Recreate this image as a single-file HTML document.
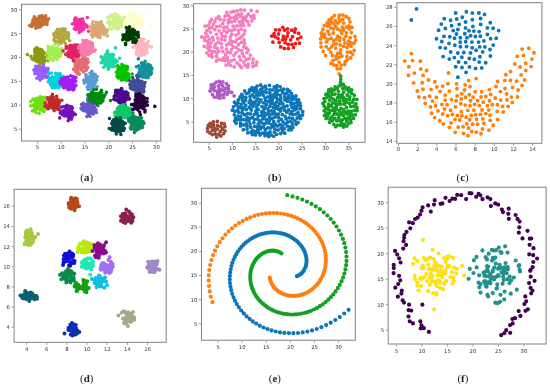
<!DOCTYPE html>
<html><head><meta charset="utf-8"><title>Clustering datasets</title>
<style>
html,body{margin:0;padding:0;background:#fff}
svg{display:block;filter:blur(0.35px)}
text{font-family:"DejaVu Sans","Liberation Sans",sans-serif;font-size:5.3px;fill:#333}
text.cap{font-family:"Liberation Serif",serif;font-size:10.9px;fill:#222}
</style></head><body>
<svg width="550" height="387" viewBox="0 0 550 387">
<rect width="550" height="387" fill="#fff"/>
<rect x="21.5" y="4.3" width="139.3" height="136.7" fill="#fff" stroke="#828282" stroke-width="1"/>
<path d="M37.4 141.5v2M61.2 141.5v2M85.0 141.5v2M108.8 141.5v2M132.6 141.5v2M156.4 141.5v2M21.0 129.2h-2M21.0 105.3h-2M21.0 81.4h-2M21.0 57.5h-2M21.0 33.6h-2M21.0 9.7h-2" stroke="#555" stroke-width="0.6" fill="none"/>
<text x="37.4" y="148.9" text-anchor="middle">5</text>
<text x="61.2" y="148.9" text-anchor="middle">10</text>
<text x="85.0" y="148.9" text-anchor="middle">15</text>
<text x="108.8" y="148.9" text-anchor="middle">20</text>
<text x="132.6" y="148.9" text-anchor="middle">25</text>
<text x="156.4" y="148.9" text-anchor="middle">30</text>
<text x="17.3" y="131.1" text-anchor="end">5</text>
<text x="17.3" y="107.2" text-anchor="end">10</text>
<text x="17.3" y="83.3" text-anchor="end">15</text>
<text x="17.3" y="59.4" text-anchor="end">20</text>
<text x="17.3" y="35.5" text-anchor="end">25</text>
<text x="17.3" y="11.6" text-anchor="end">30</text>
<path d="M39.0 18.2h0M42.8 23.7h0M41.6 17.8h0M36.4 21.0h0M40.0 19.5h0M38.4 19.7h0M37.1 23.4h0M36.6 20.8h0M40.0 21.8h0M37.1 23.7h0M39.8 21.9h0M42.0 15.5h0M35.7 28.0h0M39.5 22.7h0M39.7 20.1h0M48.6 18.9h0M34.3 16.9h0M40.4 17.9h0M40.5 26.6h0M39.7 20.5h0M36.3 25.9h0M40.7 23.8h0M38.8 21.2h0M40.3 22.4h0M39.8 17.4h0M41.9 22.5h0M42.7 20.7h0M44.3 21.8h0M42.5 19.0h0M35.6 25.0h0M39.0 20.3h0M37.9 26.4h0M40.8 21.9h0M38.8 18.7h0M33.2 24.5h0M44.1 19.0h0M35.2 21.2h0M38.6 18.3h0M40.8 25.8h0M39.7 22.6h0M41.6 18.8h0M35.8 28.2h0M41.1 17.3h0M37.1 22.7h0M40.0 18.9h0M41.9 18.4h0M39.4 22.1h0M47.0 24.4h0M38.8 21.4h0M33.8 23.8h0M35.5 20.5h0M37.7 19.8h0M42.8 17.2h0M39.0 27.2h0M45.6 17.2h0M36.7 22.5h0M37.1 19.5h0M39.4 21.1h0M36.0 21.7h0M34.5 22.0h0M47.3 21.4h0M29.7 25.6h0M45.7 19.0h0M33.9 22.7h0M37.3 24.5h0M37.2 20.7h0M37.4 21.4h0M40.2 23.8h0M39.9 24.4h0M41.3 24.0h0M32.9 20.1h0M39.2 21.4h0M41.8 21.0h0M37.8 20.6h0M42.4 23.5h0M43.2 20.7h0M37.3 26.0h0M35.0 17.9h0M35.0 23.6h0M31.9 26.4h0M42.8 19.6h0M36.7 22.1h0M40.5 17.8h0M45.7 15.8h0M37.5 22.9h0M38.9 21.1h0M38.9 20.8h0M32.1 23.1h0M39.4 25.6h0M39.2 16.2h0M40.7 19.6h0M34.3 18.1h0M44.4 22.0h0M36.5 22.8h0M33.6 24.5h0M35.5 19.1h0M44.2 23.9h0M42.3 25.2h0M42.8 18.0h0M43.1 22.6h0" stroke="#c76e32" stroke-width="3.60" stroke-linecap="round" fill="none"/>
<path d="M87.4 17.6h0M76.8 23.6h0M78.2 25.1h0M76.1 18.1h0M77.2 26.1h0M82.6 27.4h0M79.8 27.1h0M80.2 29.3h0M79.1 25.8h0M79.5 24.8h0M79.6 22.2h0M79.5 25.5h0M78.3 26.9h0M76.1 23.1h0M76.5 27.7h0M82.0 23.5h0M79.2 32.4h0M82.3 24.0h0M75.5 22.2h0M78.1 29.1h0M81.1 25.7h0M81.5 30.9h0M87.4 27.2h0M75.1 22.7h0M79.4 23.8h0M79.5 25.2h0M81.6 27.7h0M83.2 26.7h0M77.5 24.7h0M82.3 25.8h0M77.6 22.7h0M74.3 28.8h0M80.9 30.0h0M80.8 25.2h0M84.0 28.4h0M78.4 23.8h0M75.3 18.1h0M78.2 27.7h0M83.9 25.1h0M74.2 22.7h0M83.9 26.7h0M79.7 23.2h0M77.4 23.4h0M81.4 27.5h0M75.6 25.8h0M77.5 21.3h0M81.2 22.1h0M81.2 24.0h0M77.8 22.5h0M87.3 26.1h0M78.5 25.6h0M79.0 27.6h0M81.2 26.1h0M86.0 25.0h0M81.9 21.5h0M79.6 19.7h0M78.4 28.0h0M79.4 25.4h0M75.6 25.1h0M74.6 19.9h0M80.4 27.4h0M77.4 26.4h0M79.9 28.8h0M77.3 25.7h0M78.8 21.5h0M84.9 24.9h0M82.5 29.9h0M83.1 25.1h0M82.5 19.1h0M72.4 24.0h0M76.7 22.8h0M75.9 26.8h0M81.5 22.7h0M81.0 27.9h0M78.7 21.7h0M80.7 31.2h0M83.8 23.5h0M83.9 26.2h0M83.8 28.9h0M82.8 26.8h0M83.2 21.3h0M78.0 25.2h0M80.9 20.6h0M83.3 29.5h0M82.4 22.3h0M88.5 31.2h0M78.8 20.1h0M75.7 29.4h0M82.6 21.2h0M78.3 23.0h0M81.1 19.4h0M80.7 21.4h0M77.4 25.7h0M80.4 20.8h0M82.8 27.8h0M83.2 22.2h0M80.3 25.9h0M80.0 31.2h0M81.4 24.1h0M77.5 22.3h0" stroke="#f531a3" stroke-width="3.60" stroke-linecap="round" fill="none"/>
<path d="M93.1 31.8h0M96.3 22.5h0M92.2 27.7h0M101.5 28.4h0M102.4 33.5h0M89.7 27.0h0M93.7 31.0h0M93.8 25.9h0M101.3 32.4h0M101.4 29.3h0M97.6 29.6h0M97.3 27.5h0M99.2 31.1h0M101.8 32.0h0M99.1 28.2h0M103.5 31.6h0M104.5 29.1h0M97.4 32.3h0M100.2 29.6h0M94.0 33.9h0M96.1 32.3h0M102.1 24.7h0M101.3 28.5h0M96.5 29.6h0M101.3 21.9h0M101.4 30.8h0M98.2 31.6h0M95.2 30.5h0M98.8 23.0h0M98.3 24.8h0M104.6 29.5h0M104.0 27.1h0M96.6 28.8h0M98.2 30.6h0M97.4 29.2h0M99.7 33.0h0M98.1 35.4h0M99.0 27.5h0M98.7 28.7h0M100.3 32.2h0M97.2 27.9h0M101.8 28.3h0M107.4 30.1h0M101.8 25.1h0M97.6 32.8h0M93.8 29.2h0M102.2 28.8h0M98.7 31.2h0M100.1 37.6h0M98.9 29.7h0M93.1 21.8h0M93.0 33.7h0M93.7 25.7h0M94.8 27.3h0M100.2 28.8h0M93.3 32.0h0M104.2 34.5h0M95.0 30.4h0M101.1 28.8h0M100.8 33.7h0M101.6 27.7h0M92.2 24.1h0M106.5 32.6h0M98.3 24.6h0M92.7 37.1h0M93.3 31.9h0M96.0 27.5h0M99.1 34.4h0M100.2 22.9h0M102.5 26.1h0M98.2 26.2h0M94.5 27.0h0M97.8 25.6h0M99.8 33.8h0M98.6 25.3h0M94.0 31.8h0M95.3 35.3h0M101.6 25.0h0M101.0 28.9h0M97.9 28.9h0M95.4 26.5h0M101.9 26.3h0M96.1 29.5h0M97.5 23.2h0M98.7 36.7h0M99.6 22.8h0M100.6 26.5h0M98.2 37.0h0M91.5 34.4h0M97.6 28.6h0M100.6 31.0h0M101.6 30.8h0M95.5 26.6h0M96.1 35.8h0M94.2 29.4h0M91.3 30.6h0M96.9 35.0h0M92.7 31.5h0M96.1 25.1h0M99.5 35.6h0M107.4 36.0h0" stroke="#dba875" stroke-width="3.60" stroke-linecap="round" fill="none"/>
<path d="M58.5 32.9h0M68.6 34.1h0M62.8 28.7h0M61.6 36.6h0M56.5 37.4h0M69.7 40.7h0M61.7 40.7h0M62.1 32.2h0M60.8 32.8h0M64.3 33.9h0M68.0 32.6h0M60.6 38.0h0M58.6 33.8h0M61.0 29.5h0M68.4 36.3h0M60.5 29.3h0M54.8 37.2h0M65.2 38.9h0M59.9 36.8h0M64.1 35.0h0M63.1 33.3h0M61.8 31.4h0M59.0 40.8h0M55.2 41.5h0M59.7 31.7h0M62.3 37.7h0M57.8 37.5h0M60.2 37.6h0M56.4 37.3h0M65.4 43.5h0M60.8 43.3h0M62.3 38.3h0M54.0 35.1h0M68.3 35.1h0M65.9 35.8h0M53.8 33.7h0M60.1 40.9h0M64.6 34.5h0M59.8 32.3h0M58.5 33.1h0M58.2 33.5h0M57.6 30.0h0M62.6 30.2h0M58.7 37.3h0M63.5 41.6h0M57.8 31.7h0M63.4 31.9h0M60.5 33.4h0M59.0 40.6h0M55.5 37.5h0M59.7 37.8h0M53.9 39.9h0M59.7 34.5h0M59.6 38.7h0M56.6 31.0h0M57.6 29.3h0M67.4 34.5h0M59.6 35.0h0M57.4 34.6h0M61.7 33.6h0M65.2 29.1h0M60.3 31.7h0M58.8 38.8h0M59.4 39.1h0M65.3 32.1h0M66.3 35.6h0M62.7 37.6h0M57.5 33.9h0M62.7 39.6h0M63.8 41.9h0M61.0 37.8h0M59.7 39.5h0M65.2 33.4h0M66.0 35.0h0M56.9 36.9h0M57.3 33.9h0M66.1 34.3h0M59.4 36.9h0M62.4 40.9h0M62.2 34.8h0M59.6 37.1h0M62.2 38.6h0M58.6 32.7h0M62.4 29.4h0M58.0 42.1h0M65.0 32.1h0M58.9 41.0h0M61.4 42.1h0M60.3 43.6h0M60.7 43.4h0M60.7 30.0h0M60.6 32.8h0M59.2 38.9h0M56.0 31.8h0M61.3 29.7h0M57.2 36.5h0M61.8 30.5h0M68.2 38.1h0M57.4 42.1h0M66.4 36.0h0" stroke="#b3a83e" stroke-width="3.60" stroke-linecap="round" fill="none"/>
<path d="M37.2 56.4h0M34.0 60.0h0M43.0 54.8h0M40.1 59.9h0M41.7 49.7h0M35.1 56.2h0M38.0 54.9h0M39.6 56.8h0M36.4 56.3h0M37.3 56.8h0M39.3 53.9h0M37.4 57.5h0M43.5 57.1h0M38.6 53.1h0M40.6 55.9h0M40.4 60.8h0M41.3 51.4h0M41.7 62.0h0M40.6 59.6h0M38.8 55.8h0M35.2 51.3h0M39.4 53.3h0M42.0 51.3h0M44.0 61.6h0M39.8 64.1h0M38.0 53.6h0M43.0 51.5h0M38.3 55.0h0M40.0 51.5h0M45.5 57.5h0M48.0 56.1h0M38.3 54.0h0M42.4 54.2h0M37.3 50.8h0M39.9 50.5h0M44.8 60.8h0M36.1 59.8h0M40.6 55.9h0M40.7 59.1h0M41.3 51.0h0M34.8 56.9h0M40.6 56.6h0M39.0 49.6h0M44.4 53.0h0M36.9 47.9h0M41.0 58.2h0M38.5 57.9h0M47.5 55.4h0M40.0 64.0h0M42.4 60.0h0M35.6 53.9h0M36.6 53.0h0M43.8 62.7h0M39.2 61.9h0M39.5 52.8h0M34.7 49.5h0M38.6 60.5h0M39.3 53.2h0M34.7 56.1h0M34.7 51.7h0M40.3 57.7h0M43.5 60.9h0M38.3 49.3h0M39.3 51.1h0M40.4 58.7h0M38.8 55.9h0M38.2 59.2h0M36.8 61.6h0M40.1 54.7h0M42.4 62.8h0M42.7 56.2h0M34.5 55.8h0M42.7 54.2h0M42.4 52.7h0M43.0 56.3h0M32.1 58.9h0M41.0 57.9h0M42.2 53.2h0M39.9 49.2h0M36.1 52.7h0M38.0 59.0h0M41.9 58.4h0M42.9 60.4h0M39.8 59.2h0M38.8 57.5h0M35.6 53.7h0M35.1 59.7h0M43.0 52.6h0M42.2 54.9h0M48.1 60.6h0M37.0 59.8h0M43.0 55.1h0M43.8 52.5h0M38.9 59.1h0M36.1 48.0h0M43.3 53.9h0M38.5 56.9h0M38.5 57.3h0M30.9 56.3h0M38.3 55.1h0M27.4 54.6h0" stroke="#8b9a12" stroke-width="3.60" stroke-linecap="round" fill="none"/>
<path d="M54.8 48.7h0M54.0 48.9h0M48.4 54.2h0M60.3 56.3h0M53.0 49.2h0M50.8 49.2h0M48.8 58.9h0M49.1 57.9h0M53.9 53.0h0M55.2 55.6h0M63.3 52.2h0M53.8 50.1h0M53.1 54.1h0M54.3 48.4h0M56.4 48.3h0M51.9 54.7h0M61.4 52.7h0M55.8 49.1h0M59.2 56.8h0M52.3 53.4h0M52.9 60.7h0M53.8 58.2h0M55.1 49.8h0M56.2 56.2h0M57.5 55.0h0M49.5 55.4h0M50.9 51.2h0M57.1 59.5h0M52.0 48.5h0M54.8 49.9h0M48.5 48.3h0M48.3 51.1h0M59.0 44.8h0M55.9 48.5h0M51.8 53.5h0M58.3 51.8h0M53.6 57.0h0M54.6 49.4h0M51.1 53.6h0M59.9 51.1h0M53.0 55.9h0M51.8 52.7h0M59.1 54.0h0M60.6 55.2h0M52.7 48.7h0M53.2 54.8h0M53.6 50.1h0M47.8 52.7h0M53.7 53.3h0M56.8 53.9h0M52.7 51.6h0M56.7 52.6h0M59.6 55.1h0M58.8 54.9h0M53.5 50.4h0M61.6 48.5h0M52.6 47.0h0M53.3 54.7h0M55.7 51.4h0M57.6 53.8h0M55.5 49.4h0M55.1 51.9h0M51.5 48.4h0M54.6 49.9h0M52.8 51.7h0M50.3 51.4h0M56.9 51.4h0M57.2 50.6h0M59.1 52.5h0M48.1 50.2h0M53.5 55.3h0M56.4 50.8h0M55.7 53.0h0M54.8 50.8h0M60.6 54.3h0M54.0 50.4h0M47.7 57.7h0M58.8 55.7h0M56.2 54.9h0M51.3 59.1h0M50.8 48.9h0M49.0 49.6h0M55.2 44.3h0M52.3 47.1h0M57.3 52.8h0M48.0 46.2h0M49.1 53.5h0M57.3 47.7h0M51.0 51.9h0M53.1 47.4h0M59.6 55.8h0M56.1 58.1h0M54.1 55.8h0M61.4 51.2h0M51.4 53.6h0M52.0 51.1h0M53.5 49.3h0M59.7 49.2h0M49.6 57.7h0M51.3 47.9h0" stroke="#a3ee50" stroke-width="3.60" stroke-linecap="round" fill="none"/>
<path d="M79.5 67.1h0M81.2 69.9h0M76.5 62.8h0M79.6 66.3h0M81.9 66.8h0M78.2 66.4h0M82.9 64.4h0M76.3 65.8h0M83.1 57.8h0M76.5 63.4h0M79.8 61.6h0M82.4 59.3h0M82.6 66.7h0M78.7 63.2h0M82.2 55.8h0M86.9 69.0h0M82.0 69.6h0M74.6 61.9h0M82.7 68.5h0M86.7 68.3h0M76.4 62.3h0M81.5 65.3h0M80.5 63.8h0M80.2 65.3h0M73.8 69.6h0M83.0 67.3h0M82.7 60.1h0M79.4 63.6h0M88.3 62.1h0M87.5 59.0h0M83.5 65.1h0M77.6 68.8h0M82.5 62.9h0M80.1 61.5h0M78.5 60.6h0M80.9 64.8h0M80.7 65.0h0M86.2 68.2h0M81.4 60.1h0M83.3 65.8h0M87.1 68.6h0M75.9 62.6h0M77.5 69.9h0M84.0 61.9h0M83.4 66.5h0M81.4 68.2h0M87.1 61.8h0M83.4 71.8h0M83.7 59.2h0M85.2 61.8h0M80.7 65.9h0M82.9 63.3h0M81.6 65.8h0M86.9 69.0h0M80.6 66.8h0M84.5 59.4h0M85.3 61.9h0M75.6 57.0h0M82.6 65.1h0M80.8 65.9h0M82.3 63.5h0M79.4 74.1h0M80.6 62.9h0M82.6 65.2h0M82.4 60.9h0M79.0 59.3h0M73.5 69.3h0M77.4 73.7h0M77.1 60.1h0M85.3 64.3h0M87.0 63.8h0M78.9 63.8h0M80.2 62.0h0M75.2 61.0h0M79.0 61.5h0M75.1 66.2h0M81.0 61.4h0M76.3 58.5h0M82.5 66.6h0M85.2 64.3h0M85.0 56.1h0M83.5 66.6h0M79.2 62.5h0M81.8 67.7h0M78.3 62.2h0M85.9 70.5h0M83.4 65.4h0M83.6 61.5h0M80.9 68.4h0M75.6 71.6h0M85.2 65.4h0M78.7 65.7h0M75.8 63.5h0M85.5 60.5h0M75.0 59.7h0M77.9 71.7h0M76.2 68.2h0M80.7 68.5h0M75.2 65.6h0M87.8 67.3h0" stroke="#e26e70" stroke-width="3.60" stroke-linecap="round" fill="none"/>
<path d="M74.8 51.0h0M78.9 55.5h0M77.1 56.0h0M70.9 51.6h0M80.1 53.0h0M66.2 46.5h0M70.0 52.2h0M73.0 50.9h0M72.5 50.3h0M74.5 48.1h0M71.5 54.0h0M69.2 49.1h0M72.9 49.2h0M75.1 45.1h0M73.9 48.5h0M68.7 55.3h0M72.0 55.8h0M75.6 56.2h0M73.4 60.3h0M69.1 52.5h0M72.2 57.9h0M73.5 47.7h0M75.5 53.7h0M70.9 55.7h0M75.4 46.0h0M71.2 57.5h0M73.8 48.7h0M63.1 50.8h0M81.0 48.3h0M75.1 49.8h0M77.0 54.8h0M70.0 49.8h0M70.6 50.3h0M66.1 48.5h0M76.2 51.1h0M73.7 45.3h0M69.1 54.6h0M69.1 52.8h0M69.4 51.1h0M70.7 56.6h0M67.4 46.8h0M72.8 52.1h0M73.2 51.6h0M75.9 49.2h0M70.9 54.3h0M69.1 55.9h0M78.2 54.7h0M65.7 54.4h0M70.2 50.1h0M69.9 49.3h0M74.5 46.6h0M77.9 45.0h0M78.1 55.6h0M71.6 50.4h0M80.7 48.8h0M77.5 51.9h0M75.3 48.6h0M71.4 48.4h0M77.0 51.9h0M76.8 45.2h0M73.3 51.3h0M72.0 53.6h0M73.7 52.8h0M72.0 54.1h0M67.5 54.7h0M74.3 55.6h0M70.7 45.2h0M77.2 53.8h0M75.3 53.7h0M79.1 53.4h0M73.4 46.2h0M70.1 46.5h0M70.1 50.4h0M72.0 51.6h0M73.7 51.6h0M69.4 48.1h0M75.7 46.5h0M78.2 56.2h0M77.8 46.5h0M71.1 47.5h0M78.5 53.3h0M68.0 52.6h0M79.2 50.8h0M68.6 52.2h0M69.5 52.8h0M73.4 60.7h0M74.4 46.1h0M72.4 52.7h0M77.1 55.9h0M68.5 56.4h0M72.5 49.8h0M72.8 49.3h0M76.1 49.5h0M70.1 52.3h0M77.7 55.1h0M72.2 52.8h0M72.4 55.2h0M70.1 45.6h0M76.6 53.9h0M72.9 48.8h0" stroke="#df2265" stroke-width="3.60" stroke-linecap="round" fill="none"/>
<path d="M86.1 45.7h0M85.1 49.3h0M87.1 49.6h0M78.4 47.9h0M88.3 46.2h0M83.7 46.7h0M88.2 54.5h0M79.3 46.2h0M83.9 44.3h0M95.2 50.1h0M84.9 48.0h0M89.9 52.1h0M91.9 44.3h0M89.8 49.9h0M90.7 44.8h0M83.0 40.2h0M86.3 46.6h0M85.5 46.5h0M91.6 50.9h0M81.3 49.6h0M82.6 50.7h0M86.9 48.2h0M92.1 51.7h0M88.7 49.8h0M90.4 42.4h0M88.5 41.8h0M85.4 53.8h0M82.7 53.8h0M83.9 48.8h0M91.6 45.4h0M89.1 49.5h0M84.7 47.8h0M87.9 47.0h0M88.7 48.4h0M80.3 52.0h0M84.4 41.7h0M85.8 45.5h0M92.7 46.7h0M85.9 49.0h0M83.6 46.8h0M91.5 45.8h0M90.2 45.3h0M94.7 50.3h0M88.0 45.3h0M90.1 53.3h0M85.5 48.7h0M83.6 44.8h0M88.2 49.4h0M81.4 52.8h0M83.8 46.3h0M82.9 55.6h0M82.1 50.1h0M91.1 42.4h0M85.6 44.5h0M92.5 43.2h0M87.0 52.7h0M85.6 54.8h0M88.3 45.1h0M80.4 48.1h0M88.5 43.3h0M92.4 45.0h0M84.9 49.3h0M91.8 50.2h0M87.2 42.2h0M87.8 53.0h0M86.3 45.6h0M86.7 43.7h0M92.1 50.3h0M85.5 48.3h0M83.0 46.5h0M86.7 45.0h0M85.2 51.2h0M94.1 51.2h0M85.2 50.6h0M86.3 51.3h0M87.2 50.5h0M85.9 46.6h0M90.0 46.2h0M84.7 46.5h0M86.9 48.3h0M81.1 45.5h0M86.9 41.7h0M89.7 52.0h0M82.4 43.7h0M84.2 45.4h0M86.3 40.2h0M87.7 42.4h0M92.3 49.6h0M86.2 42.5h0M87.4 51.1h0M90.0 42.2h0M87.3 42.7h0M86.9 42.9h0M86.6 42.9h0M89.5 48.5h0M88.4 49.8h0M83.4 51.7h0M87.3 51.6h0M89.2 45.8h0M89.3 49.5h0" stroke="#f97bb0" stroke-width="3.60" stroke-linecap="round" fill="none"/>
<path d="M40.7 73.1h0M45.3 76.0h0M39.1 73.9h0M40.0 75.8h0M38.2 69.3h0M38.2 69.6h0M48.0 68.3h0M33.9 70.2h0M42.3 71.0h0M34.6 70.2h0M36.5 68.3h0M42.8 67.5h0M39.1 78.6h0M44.3 69.8h0M39.1 68.0h0M43.0 77.8h0M39.2 74.7h0M40.1 72.3h0M37.9 73.8h0M42.6 73.3h0M39.5 74.2h0M40.1 80.1h0M41.1 76.8h0M40.9 78.5h0M43.9 72.2h0M35.5 72.2h0M37.7 66.4h0M42.3 76.0h0M41.3 73.2h0M44.9 71.7h0M42.4 77.2h0M43.4 65.3h0M42.8 73.2h0M41.1 76.5h0M41.2 77.1h0M40.7 74.5h0M37.5 70.9h0M35.0 73.2h0M35.7 66.3h0M47.7 69.9h0M47.5 70.8h0M42.5 74.6h0M37.2 72.6h0M38.5 74.6h0M43.2 73.5h0M34.8 73.8h0M37.7 74.1h0M36.5 68.6h0M47.5 77.1h0M42.9 70.8h0M36.6 72.7h0M45.7 69.9h0M46.4 77.4h0M37.7 72.0h0M41.8 73.0h0M39.1 74.6h0M38.2 71.4h0M34.3 69.6h0M38.5 78.3h0M42.4 78.3h0M41.9 74.6h0M42.6 70.2h0M45.2 74.9h0M39.3 73.2h0M35.2 70.9h0M40.9 78.1h0M44.8 68.1h0M35.6 71.0h0M45.0 70.0h0M36.8 78.3h0M40.0 75.0h0M40.4 73.5h0M42.3 75.2h0M40.0 66.7h0M39.9 70.5h0M41.4 72.4h0M37.0 71.2h0M40.2 70.2h0M47.9 72.5h0M43.1 77.0h0M40.8 67.5h0M40.1 75.5h0M41.1 73.9h0M39.5 74.6h0M47.6 76.4h0M38.8 75.3h0M44.9 74.2h0M45.1 72.6h0M40.2 78.6h0M44.8 71.2h0M41.8 73.6h0M38.8 77.9h0M43.8 72.2h0M39.0 75.5h0M40.8 73.5h0M46.4 70.3h0M38.1 77.3h0M39.5 76.5h0M40.6 71.7h0M42.7 71.7h0" stroke="#9760f8" stroke-width="3.60" stroke-linecap="round" fill="none"/>
<path d="M54.4 78.1h0M51.8 80.6h0M58.1 79.3h0M50.5 84.6h0M49.2 73.7h0M49.4 80.8h0M61.9 76.4h0M60.0 82.2h0M56.7 73.6h0M55.0 78.8h0M54.0 80.4h0M56.5 75.2h0M51.8 85.6h0M55.2 79.6h0M60.3 77.7h0M52.9 78.2h0M59.2 79.3h0M53.9 77.8h0M53.8 87.2h0M60.0 85.1h0M53.9 81.5h0M53.9 81.4h0M49.9 78.4h0M55.2 80.2h0M59.0 76.3h0M60.0 73.5h0M56.8 86.0h0M55.9 80.3h0M55.4 82.6h0M51.9 77.4h0M58.7 84.5h0M57.1 81.0h0M53.7 77.8h0M54.9 82.4h0M55.3 87.7h0M52.9 82.0h0M50.0 79.7h0M56.1 82.6h0M54.5 77.9h0M59.0 83.2h0M56.3 76.6h0M54.9 83.2h0M52.2 81.6h0M51.3 73.0h0M52.9 79.0h0M55.7 78.1h0M53.6 85.2h0M61.0 80.7h0M55.4 79.7h0M59.6 77.6h0M59.3 77.4h0M55.6 79.5h0M52.3 87.6h0M54.1 84.4h0M60.7 77.0h0M59.3 82.5h0M62.6 86.7h0M50.6 83.3h0M51.5 80.0h0M55.7 73.4h0M58.7 75.9h0M56.6 81.0h0M52.5 86.0h0M51.8 81.8h0M57.8 86.6h0M50.0 79.6h0M51.2 79.2h0M53.5 83.2h0M50.1 80.8h0M52.3 82.7h0M52.7 79.8h0M55.6 86.7h0M54.4 79.0h0M58.8 77.6h0M55.8 84.6h0M52.2 77.1h0M52.4 76.7h0M59.7 84.4h0M56.6 80.9h0M62.4 77.4h0M53.1 78.9h0M51.6 81.0h0M55.8 79.9h0M56.1 83.8h0M48.2 81.8h0M51.7 83.0h0M62.8 76.2h0M54.4 85.7h0M50.3 79.1h0M58.9 81.5h0M55.5 79.5h0M58.9 87.4h0M55.6 79.0h0M58.5 79.0h0M51.0 82.6h0M49.4 79.7h0M55.7 78.6h0M51.5 84.6h0M60.6 79.8h0M61.4 78.8h0" stroke="#00d2dc" stroke-width="3.60" stroke-linecap="round" fill="none"/>
<path d="M64.4 80.3h0M74.3 85.0h0M62.7 80.9h0M69.3 82.3h0M59.9 81.6h0M63.7 85.2h0M73.0 90.0h0M62.9 85.0h0M75.8 77.4h0M67.5 79.6h0M71.9 82.4h0M71.1 86.0h0M72.7 79.4h0M75.7 81.3h0M64.4 86.0h0M71.0 83.1h0M62.9 83.8h0M68.4 83.5h0M69.3 79.9h0M75.1 80.8h0M65.7 86.5h0M67.3 83.5h0M68.2 84.6h0M66.4 79.8h0M72.9 79.8h0M69.5 81.7h0M66.4 87.1h0M67.8 81.2h0M69.2 87.5h0M70.1 81.8h0M70.4 85.8h0M70.0 84.9h0M68.6 83.6h0M72.5 76.6h0M75.5 81.0h0M68.3 84.5h0M68.8 79.1h0M63.7 82.7h0M62.5 83.3h0M74.6 86.7h0M61.4 78.5h0M75.3 81.5h0M74.4 86.3h0M74.1 77.1h0M72.1 82.3h0M74.5 79.1h0M67.0 78.3h0M72.5 82.7h0M74.5 79.9h0M72.5 85.2h0M72.8 87.4h0M69.3 89.5h0M63.5 81.7h0M69.5 83.0h0M71.9 82.0h0M66.5 83.0h0M69.5 85.2h0M69.3 84.7h0M67.4 84.5h0M70.6 75.7h0M66.8 81.4h0M64.4 77.5h0M68.5 82.8h0M74.4 79.7h0M64.3 81.3h0M68.9 81.0h0M70.3 80.6h0M70.8 83.8h0M74.1 89.0h0M68.2 86.8h0M69.2 84.9h0M69.2 85.1h0M68.0 89.4h0M69.6 82.2h0M67.6 85.7h0M67.4 77.1h0M70.5 81.9h0M68.7 85.2h0M66.5 77.6h0M63.5 82.2h0M69.7 84.3h0M64.0 87.9h0M73.4 85.9h0M73.0 80.8h0M71.9 80.5h0M65.3 85.1h0M72.3 88.0h0M75.9 85.4h0M69.5 87.1h0M71.1 86.0h0M68.9 87.5h0M74.1 89.3h0M71.4 82.4h0M71.4 87.1h0M73.6 79.8h0M70.4 82.2h0M69.2 80.9h0M66.8 81.3h0M71.3 88.5h0M60.2 83.7h0" stroke="#a01ef0" stroke-width="3.60" stroke-linecap="round" fill="none"/>
<path d="M90.7 76.2h0M91.4 83.5h0M86.7 81.8h0M89.3 86.1h0M90.8 76.9h0M91.5 85.8h0M92.3 86.0h0M86.0 79.3h0M89.4 76.7h0M92.2 84.8h0M91.9 75.9h0M90.6 85.9h0M89.0 84.8h0M87.3 86.9h0M92.6 76.7h0M90.0 78.1h0M94.2 74.3h0M90.6 82.9h0M92.6 81.0h0M92.2 75.9h0M89.8 80.5h0M88.0 82.1h0M89.0 84.6h0M90.5 83.3h0M92.4 78.0h0M86.3 77.2h0M83.8 80.4h0M93.5 84.2h0M90.4 84.7h0M93.0 89.5h0M88.0 89.6h0M91.8 75.9h0M95.1 78.6h0M92.0 84.6h0M95.2 78.8h0M88.4 86.8h0M89.1 76.8h0M95.3 74.6h0M88.6 82.9h0M95.7 80.5h0M93.7 87.0h0M90.0 81.5h0M90.0 83.2h0M85.8 74.5h0M91.7 87.6h0M94.8 81.1h0M93.6 82.2h0M88.6 84.6h0M92.4 78.1h0M92.9 78.6h0M95.2 80.1h0M94.6 76.6h0M92.2 81.6h0M89.8 86.4h0M86.2 75.7h0M91.3 83.6h0M96.5 77.1h0M91.5 77.0h0M90.7 79.7h0M97.3 76.7h0M90.4 78.2h0M95.3 81.7h0M90.0 73.2h0M90.4 86.7h0M91.9 71.4h0M93.5 77.0h0M84.3 83.3h0M95.5 82.6h0M95.9 78.9h0M92.9 73.8h0M89.9 82.8h0M92.0 79.9h0M86.0 75.6h0M92.4 81.5h0M93.7 82.5h0M95.6 80.5h0M94.0 84.6h0M90.7 79.3h0M88.5 83.6h0M91.5 76.1h0M94.1 77.0h0M92.6 77.0h0M96.7 80.1h0M93.0 78.4h0M85.0 81.3h0M93.0 77.7h0M90.5 76.8h0M89.5 81.6h0M97.1 86.6h0M91.3 81.5h0M91.3 83.2h0M93.7 85.5h0M87.2 78.9h0M87.6 79.4h0M91.6 83.9h0M90.3 81.4h0M92.9 83.7h0M90.8 87.1h0M90.5 89.2h0M91.3 83.0h0" stroke="#5b9bd5" stroke-width="3.60" stroke-linecap="round" fill="none"/>
<path d="M124.3 17.2h0M116.1 18.4h0M117.7 26.1h0M107.7 17.9h0M118.0 29.2h0M118.9 18.6h0M114.1 19.1h0M110.3 22.8h0M116.7 19.1h0M118.0 21.2h0M118.6 24.4h0M121.9 23.3h0M119.4 22.0h0M115.6 19.9h0M118.2 17.1h0M120.5 24.1h0M118.4 21.7h0M113.6 26.1h0M117.4 24.0h0M111.4 22.4h0M117.3 21.7h0M112.1 24.2h0M121.5 24.9h0M115.3 13.6h0M117.8 23.9h0M109.4 20.9h0M111.4 22.2h0M113.3 28.2h0M122.5 22.5h0M119.8 19.4h0M113.8 21.8h0M115.1 18.5h0M118.0 23.4h0M122.5 20.2h0M118.1 25.0h0M117.9 27.5h0M118.1 25.6h0M117.1 23.1h0M117.3 20.8h0M116.2 22.3h0M111.0 29.1h0M121.0 20.0h0M111.0 15.1h0M113.8 20.2h0M118.0 21.7h0M118.6 27.2h0M116.3 23.1h0M116.7 23.1h0M114.1 24.8h0M119.7 25.2h0M117.7 20.8h0M116.1 20.6h0M118.4 24.1h0M117.6 15.1h0M112.5 23.2h0M113.6 14.8h0M111.3 22.1h0M119.8 25.3h0M115.9 24.7h0M111.5 22.4h0M118.2 23.6h0M117.0 19.6h0M120.8 26.7h0M118.7 24.4h0M109.5 25.0h0M118.8 21.0h0M112.4 16.2h0M117.9 22.4h0M114.4 20.6h0M115.0 18.0h0M117.6 19.9h0M115.3 27.6h0M118.3 25.8h0M116.0 22.2h0M113.6 18.9h0M111.2 16.7h0M114.3 18.6h0M121.1 25.3h0M113.7 18.7h0M117.1 21.8h0M109.7 28.1h0M118.4 16.9h0M113.8 25.3h0M117.2 20.4h0M118.5 23.7h0M109.3 16.8h0M114.6 17.5h0M109.2 20.8h0M114.6 26.1h0M120.0 17.4h0M114.3 19.8h0M112.5 24.4h0M115.5 23.4h0M118.7 26.5h0M119.9 18.6h0M115.6 26.5h0M107.8 22.4h0M113.8 21.8h0M112.6 22.1h0M116.2 22.1h0" stroke="#cdf38a" stroke-width="3.60" stroke-linecap="round" fill="none"/>
<path d="M134.2 18.2h0M137.0 22.1h0M136.0 18.7h0M131.4 22.9h0M138.9 18.4h0M131.0 19.0h0M133.1 21.2h0M127.6 18.7h0M132.4 20.3h0M137.0 24.0h0M129.3 18.7h0M136.4 17.0h0M136.0 27.3h0M135.1 17.7h0M135.8 21.7h0M135.1 15.6h0M139.5 18.3h0M127.8 19.0h0M135.7 17.4h0M140.7 20.0h0M129.1 21.5h0M135.7 22.1h0M129.0 22.3h0M137.9 18.4h0M131.8 16.1h0M135.9 22.8h0M136.4 18.3h0M124.9 23.5h0M134.2 17.5h0M132.0 22.8h0M134.1 25.9h0M135.3 19.8h0M133.0 21.6h0M136.4 27.7h0M129.7 17.1h0M130.3 13.9h0M134.8 22.0h0M137.6 19.5h0M135.5 21.4h0M130.8 16.6h0M133.6 21.9h0M129.7 16.8h0M140.2 22.2h0M134.8 25.5h0M127.7 16.6h0M139.6 18.9h0M135.4 18.1h0M137.3 23.0h0M135.8 20.7h0M131.9 19.1h0M132.5 21.9h0M132.3 22.5h0M139.2 16.5h0M131.6 13.3h0M138.4 17.3h0M131.2 18.1h0M135.6 14.0h0M132.6 21.1h0M142.4 14.0h0M134.5 22.4h0M135.2 15.0h0M136.3 16.1h0M133.5 14.9h0M130.9 20.7h0M131.3 21.4h0M141.1 25.2h0M134.2 22.7h0M128.3 18.7h0M127.0 19.4h0M142.4 19.5h0M135.1 22.2h0M135.2 24.5h0M134.0 19.6h0M141.9 19.5h0M131.7 21.2h0M128.4 16.4h0M139.0 20.5h0M136.0 20.5h0M134.8 17.5h0M127.4 22.0h0M136.9 26.2h0M133.2 20.5h0M129.4 19.0h0M134.4 17.2h0M126.8 15.5h0M131.2 15.4h0M132.6 21.4h0M132.9 12.3h0M139.4 20.5h0M134.0 15.1h0M135.4 18.9h0M132.3 23.2h0M136.1 15.2h0M142.1 21.2h0M135.7 19.4h0M138.2 19.6h0M130.5 25.5h0M136.0 18.7h0M137.6 21.3h0M143.5 21.9h0M150.7 26.0h0M146.4 13.5h0" stroke="#ffffcc" stroke-width="3.60" stroke-linecap="round" fill="none"/>
<path d="M143.5 45.4h0M145.7 47.6h0M138.3 50.6h0M144.6 46.6h0M142.9 50.0h0M142.2 46.2h0M143.9 52.4h0M138.8 40.6h0M140.2 47.3h0M140.2 52.5h0M137.7 45.6h0M139.2 39.5h0M136.2 54.1h0M140.2 51.4h0M146.7 48.6h0M143.5 52.2h0M144.1 44.7h0M146.2 46.2h0M143.5 46.4h0M145.0 48.5h0M143.6 49.1h0M144.2 48.0h0M139.2 49.5h0M147.0 52.8h0M136.2 44.7h0M138.0 48.7h0M139.8 38.6h0M139.1 49.7h0M140.2 46.2h0M143.4 52.4h0M143.3 39.8h0M135.1 44.9h0M144.4 46.4h0M140.9 55.7h0M146.0 48.2h0M140.9 42.5h0M133.0 47.3h0M143.8 44.4h0M143.9 39.5h0M142.7 43.3h0M144.5 52.4h0M138.8 39.3h0M140.6 47.2h0M136.8 48.3h0M136.8 49.2h0M143.7 50.0h0M139.4 42.1h0M143.4 45.1h0M145.3 49.0h0M140.2 54.6h0M144.3 47.7h0M141.6 51.0h0M143.9 44.7h0M142.3 52.8h0M138.6 47.1h0M138.6 45.6h0M145.3 49.8h0M141.0 49.5h0M145.4 43.7h0M151.4 47.0h0M138.2 45.5h0M140.8 46.3h0M146.2 48.0h0M144.3 54.8h0M145.5 46.5h0M140.8 48.8h0M146.8 48.8h0M146.3 48.8h0M141.8 45.7h0M149.1 46.0h0M142.5 47.2h0M140.6 49.2h0M148.3 41.5h0M139.2 46.3h0M137.4 43.5h0M144.2 46.5h0M138.7 44.1h0M144.0 47.6h0M144.4 51.9h0M139.5 50.4h0M142.1 40.8h0M141.9 42.7h0M141.6 48.4h0M145.4 44.9h0M146.9 43.4h0M138.7 56.3h0M142.2 51.3h0M136.5 52.4h0M139.3 47.7h0M141.7 39.4h0M137.2 47.0h0M137.1 50.6h0M141.9 45.4h0M137.0 42.8h0M138.3 43.4h0M141.5 43.6h0M143.7 48.0h0M143.4 51.9h0M136.9 48.3h0M146.7 49.7h0" stroke="#ffb5c0" stroke-width="3.60" stroke-linecap="round" fill="none"/>
<path d="M128.0 30.3h0M130.4 36.5h0M126.4 36.2h0M132.4 36.7h0M133.0 35.2h0M134.1 33.4h0M129.7 33.3h0M136.8 35.3h0M125.8 35.8h0M129.5 26.9h0M133.0 40.5h0M129.5 31.1h0M126.0 38.3h0M130.2 37.0h0M128.0 36.0h0M125.0 38.6h0M128.0 37.6h0M129.1 36.5h0M128.9 38.1h0M131.5 33.2h0M133.7 40.8h0M131.1 33.8h0M129.2 34.8h0M129.3 35.2h0M124.6 34.8h0M128.4 39.3h0M129.0 32.9h0M133.6 35.6h0M133.3 38.1h0M125.6 43.4h0M130.0 37.1h0M130.3 36.3h0M134.6 40.0h0M127.3 29.5h0M132.9 37.7h0M122.7 39.7h0M128.8 36.9h0M130.8 37.4h0M134.3 40.9h0M129.1 39.1h0M132.9 35.9h0M133.0 36.3h0M138.4 35.0h0M127.3 36.6h0M128.6 33.8h0M133.7 35.2h0M129.4 39.0h0M136.0 32.5h0M123.7 36.4h0M127.1 37.9h0M136.3 40.7h0M126.3 27.5h0M128.4 37.4h0M134.4 38.4h0M130.3 35.6h0M135.4 42.4h0M127.1 37.0h0M133.5 38.8h0M131.9 38.4h0M128.8 31.8h0M129.7 29.9h0M131.5 32.3h0M132.9 42.2h0M124.6 34.7h0M126.2 38.5h0M129.0 39.8h0M134.6 33.6h0M130.9 34.4h0M126.9 33.2h0M127.1 30.7h0M127.8 38.5h0M134.5 34.1h0M126.7 34.2h0M130.2 36.4h0M132.5 34.2h0M134.0 34.7h0M131.4 36.8h0M135.7 39.3h0M134.4 31.6h0M138.2 37.0h0M138.0 32.2h0M132.6 29.2h0M131.0 34.3h0M125.6 44.6h0M131.3 34.8h0M132.8 35.3h0M123.0 35.0h0M134.4 30.6h0M126.8 39.7h0M127.7 38.8h0M124.3 39.0h0M136.0 40.4h0M123.4 37.5h0M128.4 34.0h0M127.5 37.1h0M127.1 40.1h0M131.6 36.0h0M130.0 34.6h0M127.2 36.4h0M131.0 32.1h0" stroke="#003c00" stroke-width="3.60" stroke-linecap="round" fill="none"/>
<path d="M102.8 61.2h0M111.4 62.0h0M110.1 57.4h0M111.5 66.3h0M107.1 66.1h0M112.1 59.1h0M114.7 59.7h0M105.5 56.0h0M104.9 59.9h0M109.0 57.0h0M113.1 61.5h0M107.0 60.1h0M107.6 56.4h0M111.1 54.8h0M115.5 61.8h0M107.5 58.1h0M111.2 61.2h0M106.0 54.3h0M110.0 64.2h0M104.4 56.8h0M110.9 59.9h0M105.9 60.3h0M108.3 69.2h0M119.6 58.3h0M108.5 63.5h0M107.5 50.9h0M111.2 64.9h0M113.0 58.1h0M111.7 60.4h0M109.1 59.1h0M108.9 65.2h0M106.0 59.9h0M103.8 60.4h0M108.5 57.2h0M110.3 61.0h0M108.6 58.3h0M113.2 63.9h0M104.0 62.7h0M101.2 62.8h0M112.8 56.3h0M115.4 59.7h0M110.3 62.1h0M107.8 58.9h0M113.1 58.3h0M102.2 58.1h0M109.7 62.1h0M110.2 56.6h0M110.2 62.6h0M117.2 61.3h0M111.4 55.3h0M106.5 57.9h0M106.5 60.9h0M106.9 53.4h0M104.6 58.0h0M109.8 67.3h0M116.1 62.1h0M108.7 59.2h0M106.3 62.8h0M109.5 63.2h0M110.0 55.3h0M105.9 65.8h0M109.2 58.5h0M112.2 64.0h0M101.0 56.7h0M112.3 54.4h0M106.1 57.9h0M113.4 66.8h0M113.6 54.7h0M111.8 58.0h0M112.4 60.9h0M104.4 63.4h0M109.0 63.1h0M113.4 61.5h0M109.3 66.5h0M111.1 62.6h0M115.2 66.3h0M110.9 61.5h0M108.3 53.7h0M113.2 63.1h0M114.8 62.4h0M112.6 66.4h0M108.5 61.0h0M108.5 65.8h0M102.7 60.0h0M111.9 59.8h0M108.4 65.5h0M108.7 62.0h0M107.0 59.3h0M110.3 58.5h0M108.7 63.0h0M108.9 61.1h0M103.6 61.3h0M103.6 67.2h0M106.6 62.3h0M112.2 61.1h0M111.6 54.7h0M110.1 58.6h0M107.1 57.0h0M109.9 59.7h0M105.5 63.4h0M115.5 47.9h0" stroke="#20d8a6" stroke-width="3.60" stroke-linecap="round" fill="none"/>
<path d="M121.5 73.0h0M127.9 78.9h0M122.6 74.5h0M132.3 74.1h0M122.0 70.6h0M119.9 71.4h0M117.8 65.9h0M123.8 75.0h0M119.1 73.9h0M124.2 76.1h0M128.3 74.6h0M124.3 72.3h0M128.9 74.8h0M124.2 72.3h0M126.2 80.1h0M128.2 73.8h0M121.3 73.5h0M116.9 76.2h0M124.6 68.3h0M123.7 71.9h0M122.9 70.2h0M122.5 71.6h0M122.7 76.9h0M120.3 75.7h0M126.6 66.3h0M123.2 76.0h0M125.9 71.5h0M122.0 66.2h0M127.2 69.8h0M124.2 72.8h0M127.6 78.4h0M121.1 73.0h0M118.7 67.2h0M121.7 74.9h0M125.2 67.7h0M123.9 76.1h0M120.6 72.4h0M121.9 64.5h0M126.8 80.3h0M120.6 72.0h0M129.1 77.7h0M122.4 68.8h0M121.5 73.0h0M122.2 70.8h0M120.0 73.2h0M118.7 69.7h0M126.3 73.4h0M124.2 73.2h0M122.7 72.7h0M125.4 73.5h0M121.9 74.8h0M122.4 71.6h0M124.6 66.0h0M123.4 73.0h0M121.7 72.9h0M122.4 76.4h0M124.6 67.4h0M120.9 75.7h0M123.9 72.3h0M128.8 75.7h0M123.5 76.2h0M120.8 75.0h0M119.9 71.7h0M127.8 75.2h0M121.4 68.5h0M123.2 67.9h0M117.6 73.7h0M120.2 75.3h0M126.9 69.4h0M123.3 69.9h0M119.8 72.4h0M123.4 79.6h0M127.2 75.8h0M125.5 76.2h0M124.6 71.1h0M123.9 75.1h0M126.2 72.6h0M122.4 73.2h0M123.7 74.6h0M127.3 66.9h0M122.1 73.8h0M120.5 78.2h0M128.1 75.8h0M125.2 78.3h0M121.6 71.6h0M125.7 72.5h0M125.5 72.5h0M127.6 67.1h0M126.0 73.7h0M120.2 75.1h0M122.8 68.0h0M118.3 76.3h0M120.2 70.2h0M121.4 80.1h0M116.4 72.2h0M118.0 69.3h0M127.8 77.6h0M122.7 73.3h0M118.4 77.9h0M121.6 73.6h0" stroke="#00c400" stroke-width="3.60" stroke-linecap="round" fill="none"/>
<path d="M146.3 77.5h0M146.2 71.0h0M144.3 72.3h0M149.1 64.8h0M143.6 71.2h0M139.5 72.1h0M147.8 70.9h0M146.6 71.0h0M145.7 68.1h0M148.1 77.7h0M144.9 76.9h0M145.4 72.5h0M143.2 64.7h0M146.7 66.3h0M147.7 64.2h0M144.5 71.4h0M145.1 61.4h0M143.8 70.3h0M150.5 67.0h0M143.6 64.0h0M147.2 65.1h0M147.7 67.5h0M142.7 65.2h0M142.9 70.1h0M149.4 71.7h0M145.9 70.4h0M146.0 68.2h0M140.0 72.3h0M150.0 74.7h0M143.1 67.5h0M138.7 73.6h0M142.5 64.6h0M142.3 68.1h0M143.1 70.4h0M141.3 75.8h0M143.7 75.5h0M144.8 70.0h0M147.0 64.8h0M150.7 74.5h0M142.7 64.2h0M145.2 71.8h0M149.4 72.7h0M148.9 71.5h0M150.2 70.9h0M148.5 66.5h0M151.4 73.3h0M144.0 75.6h0M139.1 72.2h0M146.0 65.8h0M143.9 63.4h0M146.1 67.2h0M144.5 75.0h0M151.3 71.5h0M149.5 71.8h0M147.6 71.0h0M144.2 71.0h0M147.9 74.9h0M141.9 66.8h0M142.7 69.8h0M140.5 71.2h0M149.4 70.1h0M146.2 71.9h0M145.8 77.0h0M139.4 69.0h0M138.9 65.7h0M148.5 74.9h0M140.6 75.8h0M146.5 70.8h0M150.3 68.8h0M151.1 67.3h0M141.9 71.2h0M142.3 71.7h0M143.5 71.4h0M150.3 72.5h0M141.0 72.8h0M143.6 72.7h0M144.7 72.1h0M149.4 67.1h0M142.6 66.9h0M150.5 70.5h0M142.3 68.9h0M145.1 69.2h0M141.5 62.7h0M144.7 68.5h0M143.2 69.9h0M137.0 75.2h0M136.4 66.8h0M140.4 76.1h0M149.6 72.2h0M144.9 66.4h0M147.3 69.2h0M147.9 77.5h0M150.2 65.5h0M149.5 75.0h0M142.4 72.4h0M151.8 68.3h0M152.0 68.7h0M143.2 75.1h0M143.4 65.2h0M142.4 76.9h0M138.3 58.9h0" stroke="#12909c" stroke-width="3.60" stroke-linecap="round" fill="none"/>
<path d="M137.5 80.3h0M141.8 82.6h0M140.1 91.9h0M135.1 86.8h0M137.0 88.8h0M139.4 80.8h0M136.9 86.4h0M137.2 84.0h0M139.4 88.6h0M141.8 85.3h0M135.8 82.9h0M133.9 82.2h0M144.3 83.8h0M137.2 87.2h0M141.9 81.2h0M130.9 81.8h0M134.0 89.8h0M136.2 87.9h0M140.7 90.1h0M131.7 89.0h0M135.9 83.3h0M132.4 88.1h0M130.6 86.2h0M132.6 77.5h0M143.5 88.9h0M136.9 83.9h0M134.4 86.9h0M138.7 86.5h0M135.3 85.6h0M140.9 86.5h0M137.8 84.6h0M139.0 86.2h0M134.6 88.0h0M137.2 85.0h0M135.4 84.7h0M145.0 82.6h0M129.6 80.7h0M136.9 89.2h0M141.3 85.8h0M140.1 87.8h0M140.3 86.5h0M139.9 82.5h0M132.2 84.1h0M138.1 85.7h0M129.8 84.5h0M135.2 81.1h0M132.5 81.9h0M136.9 76.1h0M132.7 82.0h0M134.4 89.0h0M140.3 83.3h0M140.2 91.4h0M132.0 83.3h0M133.3 80.6h0M142.5 86.0h0M136.5 85.4h0M135.3 85.6h0M135.6 83.9h0M135.2 87.4h0M135.3 87.7h0M136.1 83.5h0M143.9 91.5h0M131.4 85.7h0M136.5 85.6h0M143.3 92.2h0M135.8 90.1h0M135.3 83.6h0M131.1 81.7h0M133.3 89.3h0M130.4 88.0h0M133.7 82.4h0M130.7 84.7h0M139.5 86.4h0M139.2 88.0h0M137.9 86.7h0M144.3 86.5h0M135.3 84.0h0M134.5 86.2h0M137.6 82.2h0M134.2 85.2h0M135.8 82.9h0M139.4 84.0h0M137.4 78.9h0M133.2 79.4h0M138.4 91.1h0M136.9 90.7h0M136.0 92.9h0M139.1 88.4h0M142.5 88.1h0M136.6 90.5h0M135.9 85.3h0M138.3 76.4h0M142.5 82.6h0M135.2 86.5h0M135.3 88.6h0M138.9 85.6h0M138.4 86.3h0M137.8 78.9h0M137.8 81.9h0M133.4 85.9h0" stroke="#414c92" stroke-width="3.60" stroke-linecap="round" fill="none"/>
<path d="M87.9 105.3h0M90.7 109.4h0M90.9 106.6h0M83.2 107.1h0M94.3 110.1h0M94.0 104.5h0M90.3 105.4h0M86.4 104.4h0M83.9 110.8h0M91.8 110.7h0M97.8 105.7h0M93.3 103.5h0M88.1 106.8h0M91.6 106.8h0M96.1 103.2h0M90.6 102.4h0M90.0 104.1h0M90.4 107.8h0M85.9 109.3h0M89.9 105.4h0M81.1 108.3h0M92.0 107.5h0M85.2 110.5h0M96.4 112.5h0M88.3 104.1h0M81.5 104.6h0M83.3 103.4h0M95.9 109.7h0M89.3 105.7h0M87.3 105.1h0M86.7 109.0h0M86.3 107.2h0M91.5 103.6h0M89.1 110.7h0M87.6 108.8h0M88.0 105.0h0M89.0 106.7h0M89.7 107.3h0M87.6 104.5h0M89.1 107.4h0M85.0 109.5h0M87.0 105.1h0M82.4 104.5h0M89.9 109.6h0M86.0 105.3h0M90.3 114.0h0M86.6 110.3h0M89.1 109.3h0M91.2 108.9h0M88.3 102.8h0M88.4 108.9h0M89.5 111.7h0M82.9 107.2h0M87.0 112.1h0M93.1 104.8h0M90.2 109.0h0M88.5 109.2h0M92.8 112.2h0M90.4 107.1h0M84.7 105.0h0M87.9 100.7h0M94.0 107.4h0M87.8 109.6h0M86.4 106.1h0M83.5 103.8h0M92.1 107.7h0M92.3 99.2h0M90.5 101.2h0M88.1 109.3h0M93.3 113.9h0M93.2 107.2h0M87.3 106.9h0M89.7 102.8h0M92.7 106.5h0M88.4 110.5h0M90.1 116.2h0M93.2 107.2h0M82.6 105.2h0M85.7 108.8h0M82.1 109.8h0M89.9 107.5h0M90.4 109.8h0M91.5 112.4h0M87.0 116.5h0M88.0 109.2h0M88.5 105.3h0M94.5 111.4h0M88.3 114.1h0M96.6 102.7h0M91.1 103.0h0M92.7 109.5h0M92.2 103.1h0M92.5 107.5h0M87.7 98.9h0M90.4 105.3h0M83.6 104.8h0M90.3 110.2h0M94.5 107.2h0M91.9 105.6h0M86.5 106.2h0" stroke="#6a58c8" stroke-width="3.60" stroke-linecap="round" fill="none"/>
<path d="M101.8 100.4h0M91.6 99.9h0M99.1 98.5h0M97.2 93.8h0M91.2 92.8h0M96.1 97.7h0M102.4 95.8h0M90.4 97.4h0M92.7 96.4h0M94.0 98.2h0M100.0 102.2h0M97.1 97.9h0M97.3 104.2h0M91.9 98.4h0M102.9 100.9h0M91.2 97.7h0M97.3 99.0h0M96.3 102.0h0M103.1 98.2h0M96.5 89.2h0M93.6 100.8h0M91.8 92.3h0M95.1 99.5h0M95.8 97.3h0M100.2 95.1h0M97.5 95.8h0M92.6 100.9h0M97.7 95.6h0M96.7 96.3h0M98.6 100.5h0M94.5 99.7h0M88.1 95.6h0M95.0 96.0h0M98.6 99.8h0M102.3 96.3h0M100.2 92.2h0M93.9 99.0h0M96.7 93.9h0M100.8 103.0h0M102.0 98.5h0M98.0 101.1h0M92.2 96.1h0M88.4 94.8h0M93.7 96.4h0M96.6 98.8h0M101.5 90.3h0M98.6 102.2h0M96.5 97.8h0M99.8 97.0h0M105.0 95.1h0M98.5 98.2h0M92.2 97.4h0M96.8 95.8h0M96.8 98.0h0M96.2 98.5h0M91.8 99.7h0M98.0 95.0h0M95.0 97.6h0M98.3 97.6h0M103.9 96.9h0M93.8 102.5h0M96.8 94.2h0M95.7 93.5h0M93.4 97.5h0M95.2 99.4h0M89.7 100.0h0M87.9 94.9h0M95.2 97.5h0M93.5 94.4h0M92.4 92.2h0M100.5 99.2h0M95.1 95.3h0M101.2 99.5h0M93.8 89.8h0M99.8 94.5h0M104.1 95.9h0M94.0 102.3h0M99.6 100.5h0M98.8 103.0h0M93.9 97.2h0M90.7 98.8h0M92.4 96.8h0M90.6 97.9h0M101.7 93.0h0M103.9 96.0h0M94.2 96.2h0M98.9 96.3h0M102.1 99.1h0M95.1 101.6h0M94.2 93.5h0M96.2 95.0h0M97.8 94.3h0M92.4 95.6h0M98.8 93.8h0M101.8 98.6h0M89.9 99.1h0M101.5 100.1h0M90.1 101.0h0M90.5 95.1h0M92.7 99.0h0M110.6 100.6h0M106.4 92.4h0" stroke="#008a10" stroke-width="3.60" stroke-linecap="round" fill="none"/>
<path d="M125.8 92.5h0M124.9 98.8h0M115.4 94.7h0M128.1 97.3h0M121.1 103.2h0M128.0 96.7h0M115.3 96.2h0M119.5 93.7h0M129.5 98.9h0M122.2 97.4h0M119.2 94.3h0M127.3 94.4h0M120.1 94.1h0M122.5 93.0h0M119.6 95.5h0M127.7 95.9h0M125.2 96.0h0M121.9 98.7h0M127.9 93.3h0M126.0 91.7h0M117.9 98.8h0M121.0 102.2h0M118.3 92.9h0M113.8 99.3h0M121.3 96.3h0M121.5 98.8h0M125.0 104.7h0M123.2 101.6h0M119.0 96.3h0M127.5 99.3h0M116.3 92.4h0M121.3 95.9h0M123.7 92.3h0M122.2 103.8h0M120.9 95.9h0M117.4 99.8h0M124.0 95.1h0M118.3 93.9h0M122.1 100.8h0M120.6 100.8h0M118.5 94.9h0M117.1 100.6h0M123.0 99.7h0M120.6 96.9h0M121.1 94.6h0M120.1 98.8h0M119.9 91.7h0M125.1 96.2h0M126.2 93.4h0M117.7 90.4h0M127.8 95.2h0M115.7 90.4h0M123.9 96.4h0M114.2 96.4h0M120.5 97.1h0M120.1 92.4h0M120.1 94.4h0M114.6 99.6h0M121.6 99.3h0M121.8 96.2h0M122.4 97.2h0M124.0 101.0h0M120.2 90.3h0M120.1 90.3h0M122.9 96.8h0M122.0 90.1h0M120.5 100.1h0M123.5 93.3h0M124.8 101.6h0M123.1 95.7h0M120.8 97.7h0M123.4 96.2h0M121.5 88.6h0M121.9 100.2h0M118.3 98.8h0M115.7 92.0h0M128.5 98.3h0M125.0 98.8h0M119.1 102.4h0M121.4 91.4h0M126.3 94.0h0M120.7 91.6h0M128.0 98.8h0M122.6 96.2h0M119.3 100.3h0M118.6 95.6h0M122.6 95.5h0M126.3 98.5h0M117.0 100.3h0M123.1 98.0h0M115.6 92.6h0M126.8 95.3h0M124.0 101.1h0M116.5 95.4h0M122.4 96.7h0M120.6 98.3h0M126.9 99.1h0M121.2 92.2h0M117.9 95.4h0M121.2 93.7h0" stroke="#4a0a8c" stroke-width="3.60" stroke-linecap="round" fill="none"/>
<path d="M114.6 112.6h0M120.7 107.5h0M123.4 113.6h0M126.8 109.2h0M127.3 107.5h0M126.4 113.6h0M124.6 110.4h0M124.9 110.3h0M123.9 113.1h0M123.3 115.1h0M120.3 108.9h0M122.4 111.2h0M121.6 117.5h0M122.1 105.6h0M123.2 114.0h0M126.1 113.3h0M121.3 117.3h0M117.3 110.0h0M124.1 111.4h0M126.1 113.2h0M123.6 114.7h0M120.4 114.3h0M127.1 108.9h0M119.9 112.7h0M124.0 114.5h0M126.0 114.4h0M122.3 112.8h0M116.8 118.0h0M120.4 107.2h0M125.7 109.9h0M121.2 113.3h0M123.7 110.5h0M118.0 114.2h0M120.7 106.7h0M121.5 114.5h0M126.5 113.2h0M126.9 115.1h0M130.4 111.8h0M124.0 112.4h0M123.4 111.5h0M122.3 107.0h0M115.3 116.0h0M122.2 112.0h0M128.8 109.5h0M123.5 114.5h0M130.7 108.3h0M129.1 114.8h0M129.8 111.9h0M120.4 111.1h0M124.0 112.7h0M118.2 112.8h0M118.8 111.2h0M118.6 110.7h0M122.0 108.0h0M120.7 116.5h0M118.4 110.6h0M132.2 114.6h0M121.2 105.9h0M125.9 106.9h0M124.6 109.8h0M123.7 115.7h0M124.2 115.2h0M124.9 117.6h0M115.8 112.2h0M123.7 104.9h0M120.3 109.5h0M119.4 106.4h0M117.6 108.4h0M121.9 118.6h0M121.1 108.7h0M122.6 115.1h0M123.7 112.0h0M126.4 109.5h0M121.3 114.9h0M123.2 112.6h0M124.0 115.9h0M123.5 115.1h0M125.1 111.1h0M122.1 117.9h0M127.1 115.2h0M121.3 112.4h0M124.5 114.1h0M121.1 117.3h0M126.9 113.9h0M121.3 119.7h0M120.9 108.8h0M126.9 115.9h0M123.3 109.7h0M117.8 113.4h0M125.7 108.0h0M117.8 116.1h0M127.3 113.5h0M124.4 116.3h0M127.3 110.6h0M128.3 115.5h0M121.1 116.5h0M118.5 117.0h0M123.6 115.5h0M122.8 114.8h0M124.1 109.2h0" stroke="#10c868" stroke-width="3.60" stroke-linecap="round" fill="none"/>
<path d="M142.2 100.3h0M139.1 101.0h0M138.7 107.5h0M135.5 104.2h0M140.5 97.0h0M138.0 97.7h0M134.5 104.3h0M147.4 105.3h0M136.7 108.1h0M147.1 98.5h0M137.9 105.7h0M131.5 104.5h0M144.9 111.9h0M143.3 101.1h0M145.0 105.9h0M140.7 97.9h0M141.5 100.6h0M138.8 104.3h0M138.0 103.1h0M140.0 104.6h0M132.8 109.6h0M139.7 98.6h0M137.0 105.8h0M139.8 99.4h0M145.4 102.3h0M139.9 106.9h0M141.2 104.8h0M140.4 107.3h0M143.5 105.2h0M134.8 103.7h0M136.2 101.2h0M144.3 101.2h0M139.4 107.0h0M138.3 94.4h0M143.5 107.8h0M136.9 101.8h0M140.3 102.9h0M142.1 107.9h0M137.4 99.1h0M141.1 104.4h0M139.8 100.6h0M141.1 106.1h0M136.3 99.9h0M136.1 94.6h0M136.3 105.9h0M143.7 97.1h0M140.4 114.5h0M139.7 112.1h0M138.5 99.7h0M142.8 102.7h0M141.0 100.6h0M138.8 104.8h0M144.1 101.2h0M144.2 101.5h0M141.4 99.7h0M142.5 96.0h0M142.1 105.2h0M138.9 107.2h0M140.9 106.2h0M135.9 100.5h0M145.0 110.0h0M143.4 102.3h0M136.8 106.1h0M139.5 93.5h0M140.9 96.5h0M138.2 98.7h0M142.8 106.1h0M138.3 101.1h0M135.0 103.3h0M135.9 103.2h0M141.6 100.3h0M141.5 104.0h0M138.4 106.8h0M138.2 105.0h0M138.5 102.5h0M137.9 109.9h0M142.4 106.4h0M134.7 107.1h0M139.0 104.2h0M140.8 95.1h0M135.8 96.4h0M140.7 104.6h0M132.8 104.5h0M142.3 107.7h0M135.1 108.8h0M140.7 103.1h0M145.4 105.3h0M142.8 108.4h0M139.4 98.6h0M139.2 101.1h0M135.9 107.3h0M138.3 108.1h0M138.6 97.1h0M139.4 102.2h0M145.3 103.1h0M139.7 105.3h0M143.8 99.4h0M144.3 97.9h0M135.2 99.9h0M147.2 101.8h0M154.8 106.4h0" stroke="#28003c" stroke-width="3.60" stroke-linecap="round" fill="none"/>
<path d="M118.0 130.1h0M121.6 129.5h0M118.0 127.0h0M119.1 127.4h0M115.9 122.0h0M117.3 122.4h0M115.0 120.3h0M119.4 121.3h0M120.3 131.6h0M111.7 123.5h0M115.6 127.3h0M114.3 127.9h0M118.5 122.6h0M116.3 133.9h0M119.6 124.7h0M115.1 130.6h0M112.5 121.2h0M115.1 121.4h0M116.5 122.6h0M114.0 130.5h0M116.6 132.3h0M112.4 124.1h0M123.1 125.2h0M111.3 129.6h0M118.0 126.4h0M122.7 121.7h0M116.3 118.1h0M113.9 129.4h0M122.6 129.7h0M115.3 119.9h0M115.9 120.8h0M120.0 127.4h0M119.8 121.6h0M120.5 128.9h0M120.9 134.5h0M116.2 125.7h0M120.8 120.8h0M112.4 127.9h0M116.9 127.7h0M118.7 123.5h0M119.8 127.2h0M124.4 128.5h0M116.6 120.1h0M120.4 122.9h0M122.1 126.5h0M117.8 121.6h0M123.5 130.5h0M115.6 125.7h0M120.9 130.3h0M121.0 128.2h0M120.3 124.7h0M123.0 129.5h0M119.7 126.7h0M115.0 122.1h0M114.0 122.9h0M113.7 130.1h0M120.1 117.7h0M119.2 129.2h0M118.7 126.9h0M115.0 125.0h0M119.4 122.8h0M113.7 119.7h0M116.3 131.7h0M114.3 125.4h0M114.3 125.1h0M114.1 122.1h0M118.0 126.8h0M121.0 129.4h0M116.7 123.7h0M118.7 125.7h0M120.5 127.9h0M117.2 129.2h0M117.0 130.2h0M113.0 126.0h0M113.5 123.1h0M120.8 123.8h0M120.0 124.1h0M111.7 130.0h0M118.5 130.0h0M114.8 126.1h0M118.4 131.8h0M117.4 122.8h0M118.6 120.4h0M115.6 121.2h0M125.2 123.3h0M120.9 122.2h0M109.3 128.5h0M121.3 130.6h0M118.4 123.9h0M121.9 126.4h0M120.5 126.0h0M123.1 128.3h0M115.3 124.5h0M123.4 125.0h0M117.2 128.3h0M121.1 128.5h0M116.4 127.0h0M121.4 129.1h0M114.2 125.2h0M117.4 131.4h0M109.5 118.5h0" stroke="#004a4a" stroke-width="3.60" stroke-linecap="round" fill="none"/>
<path d="M132.6 125.0h0M136.0 125.7h0M143.0 121.6h0M140.3 121.4h0M136.7 119.9h0M134.6 129.3h0M137.4 125.4h0M140.6 126.0h0M136.4 122.5h0M133.7 124.0h0M135.2 122.0h0M136.8 122.4h0M135.8 130.8h0M140.9 120.1h0M131.2 125.7h0M131.2 129.1h0M134.1 116.4h0M136.4 121.8h0M136.1 120.4h0M135.7 125.6h0M133.7 120.0h0M134.4 129.6h0M137.9 121.7h0M140.8 122.1h0M136.0 122.9h0M133.0 121.5h0M134.0 126.3h0M135.5 122.2h0M137.2 120.1h0M143.9 123.5h0M140.9 122.5h0M136.4 119.5h0M132.8 122.8h0M138.4 127.9h0M132.5 124.2h0M135.8 119.7h0M131.2 117.4h0M138.5 120.3h0M128.7 121.3h0M133.0 119.8h0M135.6 124.1h0M132.5 123.4h0M138.3 128.6h0M133.1 123.5h0M135.1 124.3h0M136.6 122.3h0M128.2 118.8h0M130.7 118.3h0M138.7 129.0h0M136.3 117.5h0M141.0 121.9h0M133.1 118.1h0M130.4 128.0h0M138.7 127.0h0M137.9 126.5h0M133.6 118.3h0M135.6 120.2h0M135.2 124.2h0M133.4 125.9h0M137.4 120.9h0M142.0 121.5h0M135.0 120.7h0M141.2 127.8h0M142.0 125.5h0M133.0 113.0h0M139.9 124.5h0M139.1 117.5h0M138.4 118.5h0M137.3 120.6h0M131.7 126.3h0M136.6 127.5h0M138.4 122.8h0M140.3 119.2h0M134.4 132.4h0M130.6 122.5h0M143.4 122.4h0M138.1 122.6h0M130.1 121.2h0M135.0 128.0h0M138.5 122.7h0M142.4 127.4h0M133.0 122.3h0M134.5 120.1h0M139.2 120.7h0M136.2 125.1h0M136.6 119.2h0M136.4 130.2h0M142.1 124.3h0M139.2 124.3h0M139.9 123.7h0M141.4 117.7h0M134.5 128.9h0M137.2 126.1h0M139.5 121.1h0M134.6 126.0h0M132.8 117.1h0M139.5 123.3h0M137.1 119.1h0M135.3 129.1h0M142.0 123.7h0" stroke="#0c8a5c" stroke-width="3.60" stroke-linecap="round" fill="none"/>
<path d="M36.4 103.7h0M35.1 107.8h0M39.4 106.5h0M40.2 102.3h0M45.9 104.8h0M39.0 105.8h0M43.0 102.0h0M40.1 96.8h0M39.7 102.8h0M33.8 110.2h0M36.8 103.4h0M34.6 107.3h0M41.4 105.9h0M36.5 105.0h0M34.7 100.6h0M43.9 100.0h0M44.3 111.0h0M42.0 104.3h0M43.7 106.2h0M41.7 97.2h0M41.0 103.2h0M38.2 101.7h0M38.1 108.0h0M41.1 97.5h0M40.3 99.7h0M43.3 103.5h0M38.6 106.6h0M39.7 101.7h0M35.4 104.7h0M42.7 106.0h0M41.6 102.2h0M37.7 100.3h0M41.1 103.8h0M39.2 102.1h0M40.7 102.0h0M41.5 105.4h0M44.3 104.0h0M38.2 98.8h0M42.5 110.4h0M38.9 100.8h0M40.9 109.7h0M36.3 106.4h0M41.2 100.4h0M40.2 103.7h0M35.9 99.6h0M30.8 101.6h0M41.1 102.4h0M38.9 103.1h0M41.3 106.0h0M41.6 103.6h0M39.2 113.4h0M34.0 104.4h0M36.4 100.3h0M33.4 99.2h0M41.8 102.8h0M37.0 107.9h0M34.4 106.3h0M38.8 101.2h0M41.4 99.7h0M42.6 106.2h0M36.8 99.7h0M35.9 99.9h0M39.0 108.7h0M40.4 102.8h0M35.9 112.4h0M39.8 102.0h0M41.8 102.1h0M36.2 109.8h0M38.3 100.1h0M38.5 108.1h0M35.0 109.5h0M39.5 102.0h0M30.9 105.9h0M44.0 111.5h0M44.3 99.4h0M42.0 101.8h0M40.7 101.3h0M44.9 107.7h0M32.4 110.9h0M39.7 99.8h0M36.2 102.0h0M39.6 99.3h0M41.5 102.1h0M36.4 105.0h0M42.1 103.0h0M43.7 105.9h0M42.3 104.3h0M40.4 109.9h0M41.3 106.9h0M43.2 100.5h0M36.5 98.2h0M44.4 97.2h0M43.4 104.9h0M44.2 108.1h0M37.7 102.3h0M33.0 99.1h0M41.2 104.0h0M31.1 106.0h0M41.9 101.2h0M35.6 108.3h0" stroke="#72e010" stroke-width="3.60" stroke-linecap="round" fill="none"/>
<path d="M53.5 107.3h0M47.5 97.8h0M53.4 101.8h0M52.5 99.6h0M56.9 103.7h0M51.8 104.6h0M56.7 102.6h0M49.0 98.2h0M53.5 101.3h0M58.6 101.3h0M56.4 103.4h0M55.6 99.8h0M54.8 103.4h0M52.8 104.1h0M54.3 104.9h0M55.4 104.8h0M57.0 102.7h0M51.0 101.6h0M50.9 96.7h0M50.8 103.7h0M58.4 105.2h0M50.0 106.7h0M57.4 107.3h0M59.4 100.9h0M52.9 99.1h0M53.3 104.2h0M48.7 108.4h0M54.2 110.6h0M47.6 108.8h0M53.0 108.3h0M52.5 94.2h0M53.2 97.0h0M53.6 107.4h0M51.0 105.9h0M54.6 101.0h0M53.6 105.0h0M50.1 105.0h0M49.7 106.4h0M61.9 100.3h0M49.1 103.5h0M54.1 103.7h0M50.4 102.3h0M53.4 101.8h0M57.0 105.6h0M53.6 105.4h0M49.8 105.6h0M53.6 105.7h0M49.4 106.3h0M53.4 98.4h0M57.6 109.3h0M51.8 101.4h0M51.4 104.1h0M49.6 103.0h0M52.5 106.7h0M54.9 99.8h0M54.7 107.7h0M53.9 100.7h0M57.0 99.1h0M56.4 104.2h0M54.9 101.0h0M53.4 102.3h0M49.3 102.4h0M51.4 104.0h0M59.2 102.7h0M54.1 105.8h0M47.7 107.9h0M51.8 104.3h0M46.5 105.9h0M53.0 106.5h0M51.6 103.1h0M57.4 102.3h0M58.5 108.5h0M57.7 104.1h0M56.6 96.3h0M56.4 101.9h0M58.8 105.2h0M56.8 102.1h0M54.4 105.6h0M54.2 102.1h0M53.0 102.2h0M48.0 100.0h0M52.1 102.6h0M50.8 104.7h0M50.7 98.9h0M50.1 106.2h0M52.4 107.9h0M49.4 102.7h0M54.1 100.7h0M54.7 106.6h0M49.3 99.7h0M45.1 102.9h0M55.5 99.2h0M58.0 99.6h0M59.9 110.0h0M52.0 102.2h0M44.9 106.2h0M57.3 105.9h0M56.7 101.1h0M57.3 100.4h0M55.0 100.9h0" stroke="#c22a2a" stroke-width="3.60" stroke-linecap="round" fill="none"/>
<path d="M64.7 106.9h0M67.0 115.9h0M69.5 118.0h0M72.4 107.8h0M72.2 116.3h0M69.6 111.8h0M66.1 113.9h0M69.6 114.6h0M67.9 112.6h0M63.5 114.0h0M66.6 106.8h0M68.6 111.2h0M69.0 112.7h0M68.5 113.1h0M60.5 112.5h0M65.9 113.7h0M64.7 116.0h0M68.2 114.3h0M68.3 111.8h0M68.1 112.3h0M66.0 113.5h0M70.4 113.3h0M70.3 112.4h0M71.8 116.2h0M69.2 109.6h0M65.4 112.1h0M69.4 113.1h0M71.5 111.4h0M67.3 109.6h0M68.8 106.6h0M62.4 112.1h0M67.9 112.7h0M60.8 112.4h0M66.0 110.2h0M64.1 106.6h0M67.8 114.6h0M69.1 118.1h0M64.2 110.8h0M66.8 112.6h0M59.7 117.9h0M61.6 107.0h0M67.2 108.4h0M66.7 109.3h0M65.7 114.9h0M67.1 112.9h0M60.3 113.3h0M64.1 115.7h0M66.5 114.7h0M67.3 109.4h0M71.6 106.9h0M65.2 113.6h0M66.5 114.8h0M69.8 110.5h0M67.3 112.6h0M72.2 113.6h0M71.8 112.9h0M69.6 106.2h0M66.0 111.6h0M72.5 112.3h0M70.8 107.3h0M73.2 112.9h0M65.2 111.9h0M66.2 115.4h0M70.8 110.3h0M62.2 114.5h0M64.4 110.3h0M69.5 109.2h0M68.1 110.7h0M70.7 112.8h0M71.4 119.2h0M71.8 117.5h0M66.8 111.8h0M68.6 117.7h0M68.2 120.7h0M67.2 114.5h0M73.4 113.9h0M65.3 115.5h0M64.8 112.9h0M68.7 107.1h0M63.2 110.8h0M62.8 114.0h0M71.9 108.5h0M71.0 115.0h0M71.3 107.4h0M62.9 114.9h0M68.2 112.0h0M69.1 113.6h0M65.6 111.0h0M65.3 113.5h0M69.6 111.2h0M71.1 109.5h0M70.5 107.3h0M63.2 112.0h0M68.8 113.6h0M68.0 111.4h0M66.8 105.4h0M75.3 114.4h0M71.9 109.6h0M69.0 113.3h0M70.0 112.1h0" stroke="#7012be" stroke-width="3.60" stroke-linecap="round" fill="none"/>
<text class="cap" x="86.7" y="180.6" text-anchor="middle">(<tspan font-weight="bold">a</tspan>)</text>
<rect x="193.6" y="3.7" width="171.4" height="138.6" fill="#fff" stroke="#828282" stroke-width="1"/>
<path d="M209.1 142.8v2M232.4 142.8v2M255.7 142.8v2M278.9 142.8v2M302.2 142.8v2M325.5 142.8v2M348.8 142.8v2M193.1 122.1h-2M193.1 98.8h-2M193.1 75.5h-2M193.1 52.3h-2M193.1 29.0h-2M193.1 5.7h-2" stroke="#555" stroke-width="0.6" fill="none"/>
<text x="209.1" y="150.2" text-anchor="middle">5</text>
<text x="232.4" y="150.2" text-anchor="middle">10</text>
<text x="255.7" y="150.2" text-anchor="middle">15</text>
<text x="278.9" y="150.2" text-anchor="middle">20</text>
<text x="302.2" y="150.2" text-anchor="middle">25</text>
<text x="325.5" y="150.2" text-anchor="middle">30</text>
<text x="348.8" y="150.2" text-anchor="middle">35</text>
<text x="189.4" y="124.0" text-anchor="end">5</text>
<text x="189.4" y="100.7" text-anchor="end">10</text>
<text x="189.4" y="77.4" text-anchor="end">15</text>
<text x="189.4" y="54.2" text-anchor="end">20</text>
<text x="189.4" y="30.9" text-anchor="end">25</text>
<text x="189.4" y="7.6" text-anchor="end">30</text>
<path d="M216.7 26.7h0M248.3 14.2h0M236.0 52.8h0M217.4 48.5h0M233.9 17.8h0M226.5 49.2h0M224.1 20.0h0M221.5 39.6h0M240.6 60.1h0M238.6 33.3h0M231.3 44.6h0M241.3 29.2h0M231.6 21.8h0M241.9 36.3h0M253.1 59.2h0M211.5 19.6h0M236.3 15.5h0M207.4 36.0h0M230.5 65.4h0M244.6 43.5h0M237.0 39.3h0M241.1 42.3h0M224.0 30.8h0M226.9 27.0h0M236.8 26.0h0M233.9 55.3h0M227.3 57.4h0M257.1 11.3h0M242.5 20.3h0M233.1 26.2h0M213.4 24.3h0M238.4 30.5h0M241.6 13.9h0M210.5 32.3h0M234.2 66.8h0M242.4 53.4h0M216.5 34.3h0M231.3 49.7h0M243.9 62.1h0M246.9 52.7h0M242.6 23.1h0M217.9 38.2h0M228.5 30.2h0M212.6 37.4h0M212.1 57.0h0M252.8 66.6h0M226.5 44.9h0M236.0 35.1h0M204.2 46.4h0M231.8 34.4h0M239.4 65.1h0M221.9 47.7h0M237.0 18.3h0M216.4 18.3h0M211.9 27.3h0M217.0 53.1h0M205.1 26.2h0M220.2 19.7h0M244.9 30.7h0M239.2 21.8h0M246.3 59.4h0M221.7 59.9h0M204.6 40.3h0M228.2 23.0h0M248.3 50.2h0M227.6 52.3h0M233.3 47.0h0M246.1 16.6h0M248.3 64.2h0M222.8 23.4h0M204.9 37.3h0M250.4 55.2h0M207.0 52.9h0M240.4 16.5h0M219.1 30.8h0M251.8 20.9h0M238.7 50.0h0M247.8 67.2h0M243.8 46.8h0M235.0 21.0h0M244.4 10.2h0M238.8 14.4h0M234.3 59.6h0M211.4 54.2h0M249.0 58.6h0M225.1 16.0h0M227.6 60.2h0M243.6 25.6h0M213.2 40.0h0M234.6 29.5h0M239.3 56.6h0M252.7 62.9h0M225.0 40.1h0M228.9 43.3h0M220.1 26.1h0M241.3 67.5h0M240.2 25.4h0M253.8 15.5h0M251.2 10.5h0M215.5 44.2h0M210.0 22.0h0M231.0 12.1h0M208.0 44.4h0M256.0 65.2h0M238.6 44.5h0M210.4 46.8h0M224.7 60.5h0M235.6 41.8h0M214.9 21.5h0M241.8 50.7h0M209.3 50.3h0M223.8 57.8h0M214.6 47.2h0M225.4 36.3h0M206.9 30.6h0M222.9 51.6h0M208.5 25.3h0M230.4 36.9h0M218.8 16.7h0M222.3 36.3h0M233.7 11.5h0M231.6 30.7h0M230.5 17.9h0M247.5 21.7h0M228.7 63.3h0M223.9 27.4h0M228.5 20.0h0M218.9 59.3h0M221.4 43.8h0M225.4 54.4h0M221.4 33.6h0M216.3 61.0h0M244.1 40.0h0M218.3 42.2h0M207.2 41.6h0M228.5 15.6h0M245.0 65.4h0M243.6 17.5h0M216.4 56.4h0M231.5 60.8h0M243.9 56.6h0M251.0 16.7h0M240.7 9.8h0M237.1 62.9h0M207.8 47.9h0M246.4 48.2h0M254.0 18.2h0M214.8 29.7h0M237.1 10.9h0M209.3 39.2h0M236.1 47.3h0M244.0 34.1h0M230.3 40.5h0M201.8 37.0h0M226.2 65.2h0M248.9 24.9h0M210.8 43.0h0M230.4 52.7h0M214.7 51.7h0M211.9 51.3h0M245.4 19.7h0M232.7 41.7h0M209.1 55.6h0M226.9 12.4h0M239.8 38.2h0M226.8 32.6h0M218.9 51.2h0M205.8 33.2h0M256.9 62.1h0M209.1 28.5h0" stroke="#f87dbe" stroke-width="3.80" stroke-linecap="round" fill="none"/>
<path d="M292.5 36.7h0M297.7 38.9h0M283.4 36.4h0M284.6 30.2h0M275.2 36.8h0M291.9 44.4h0M288.0 32.8h0M282.8 27.3h0M287.2 36.2h0M280.6 46.9h0M279.5 29.9h0M282.5 39.8h0M299.5 43.2h0M294.7 32.2h0M298.7 33.4h0M285.1 42.8h0M279.2 42.5h0M275.7 29.9h0M278.6 34.0h0M287.6 28.9h0M290.6 39.9h0M295.5 43.6h0M284.3 48.4h0M285.6 39.2h0M295.3 29.0h0M293.5 47.4h0M272.9 42.2h0M271.8 36.1h0M288.3 48.5h0M300.9 37.1h0M288.2 44.4h0M278.0 38.5h0M291.7 30.2h0M274.1 33.7h0" stroke="#f01a1a" stroke-width="3.80" stroke-linecap="round" fill="none"/>
<path d="M335.4 20.7h0M327.9 31.2h0M341.1 65.1h0M328.0 39.3h0M337.5 36.1h0M329.1 34.3h0M342.3 27.2h0M335.8 48.2h0M339.1 73.8h0M334.0 64.9h0M336.3 56.2h0M344.9 42.9h0M352.0 27.4h0M339.1 62.2h0M341.0 30.7h0M355.0 36.5h0M350.0 21.8h0M337.7 53.2h0M352.6 54.3h0M350.2 37.7h0M345.9 36.2h0M343.9 39.4h0M340.5 50.0h0M342.8 19.3h0M320.9 42.8h0M327.2 23.0h0M331.4 21.8h0M342.0 56.1h0M351.0 42.6h0M327.6 26.0h0M325.6 55.6h0M350.9 46.2h0M354.0 43.5h0M330.8 27.9h0M324.5 34.2h0M325.0 37.6h0M333.0 60.5h0M351.4 32.5h0M339.9 37.7h0M326.2 46.6h0M321.9 35.9h0M340.4 68.6h0M331.1 38.2h0M342.8 15.1h0M330.9 52.4h0M329.8 23.9h0M321.2 32.9h0M333.4 44.6h0M350.5 52.2h0M346.8 56.5h0M333.7 28.9h0M337.8 23.1h0M343.6 46.3h0M331.7 46.8h0M333.7 41.0h0M329.0 20.0h0M324.2 25.6h0M336.9 65.7h0M340.2 45.0h0M354.2 50.5h0M341.8 33.3h0M336.3 58.9h0M334.4 15.6h0M320.6 38.8h0M337.9 29.2h0M321.1 46.9h0M347.0 47.6h0M332.5 55.7h0M333.2 33.0h0M340.4 53.4h0M345.2 61.7h0M339.3 15.2h0M346.5 32.8h0M339.5 40.6h0M339.9 21.0h0M347.4 52.1h0M331.0 63.4h0M348.3 44.6h0M336.5 43.8h0M328.8 49.1h0M348.4 41.1h0M326.4 41.9h0M322.9 29.5h0M346.0 16.5h0M338.9 18.0h0M346.3 27.1h0M355.6 40.4h0M331.9 18.0h0M344.7 64.5h0M337.1 68.8h0M334.1 23.9h0M348.9 18.5h0M350.7 58.0h0M343.7 30.0h0M343.8 23.2h0M347.3 59.8h0M336.1 39.1h0M335.7 26.5h0M338.9 57.4h0M323.2 51.3h0M348.8 25.8h0M349.2 28.9h0" stroke="#ff7f0e" stroke-width="3.80" stroke-linecap="round" fill="none"/>
<path d="M337.8 125.1h0M331.5 110.4h0M338.4 91.3h0M350.3 119.7h0M342.7 88.4h0M331.7 116.8h0M354.3 95.2h0M349.9 113.7h0M337.0 114.1h0M348.4 123.6h0M337.6 97.6h0M355.4 114.8h0M333.9 124.3h0M349.5 103.5h0M332.6 102.8h0M324.9 101.6h0M346.4 107.4h0M356.9 99.3h0M326.1 113.0h0M340.8 125.2h0M343.5 109.6h0M339.2 111.1h0M351.7 90.0h0M343.9 97.8h0M353.8 99.2h0M342.3 119.9h0M336.2 106.4h0M353.5 118.4h0M328.8 95.5h0M339.1 85.9h0M349.6 99.6h0M354.4 110.4h0M331.4 105.9h0M356.0 104.0h0M332.4 94.4h0M329.9 119.2h0M343.3 115.4h0M331.3 91.9h0M329.6 122.5h0M324.2 110.7h0M345.0 118.5h0M340.9 104.1h0M348.2 111.2h0M351.5 93.3h0M326.9 97.6h0M339.7 100.9h0M346.9 114.0h0M336.8 120.8h0M324.1 106.0h0M328.4 106.9h0M330.8 97.6h0M350.7 106.6h0M334.0 114.2h0M328.1 92.7h0M331.3 89.0h0M347.2 95.0h0M343.6 92.1h0M343.5 100.5h0M338.7 117.5h0M340.8 97.4h0M342.4 112.6h0M334.8 118.5h0M335.1 86.8h0M329.8 100.2h0M342.3 94.7h0M346.7 121.0h0M352.4 115.0h0M344.3 124.2h0M328.7 104.2h0M346.4 89.3h0M349.0 91.6h0M334.1 90.0h0M336.7 109.2h0M353.8 106.2h0M344.4 104.2h0M346.4 99.3h0M335.1 94.1h0M337.3 88.6h0M340.2 114.6h0M328.4 109.7h0M357.0 107.7h0M351.3 111.4h0M329.4 113.1h0M333.5 99.1h0M326.2 118.6h0M345.2 86.8h0M332.4 120.7h0M334.8 111.6h0M341.0 108.4h0M352.7 102.0h0M335.9 100.6h0M343.5 127.1h0M351.0 122.5h0M341.3 122.4h0M335.3 103.4h0M325.9 94.4h0M338.9 94.8h0M349.7 96.8h0M327.7 116.1h0M348.7 87.9h0M346.2 102.2h0M357.1 110.8h0M343.3 84.4h0M347.7 118.1h0M335.6 126.7h0M333.9 108.4h0M324.0 98.6h0M338.2 103.9h0M346.8 126.0h0M345.1 111.9h0M322.9 103.4h0M350.0 116.7h0M324.5 115.4h0M326.0 108.3h0M328.7 89.9h0M339.6 120.3h0M340.7 76.2h0M340.7 79.3h0M340.5 82.4h0M340.9 84.9h0" stroke="#14a022" stroke-width="3.80" stroke-linecap="round" fill="none"/>
<path d="M271.5 110.8h0M273.5 103.4h0M264.1 124.4h0M252.9 130.5h0M287.4 101.2h0M298.1 112.4h0M296.1 124.3h0M284.9 99.9h0M254.2 97.3h0M291.2 104.9h0M267.9 96.8h0M285.2 116.3h0M269.9 90.0h0M242.4 109.9h0M287.3 126.1h0M292.9 99.2h0M253.9 122.6h0M278.5 121.1h0M286.9 92.8h0M276.4 88.4h0M278.3 114.2h0M262.6 87.4h0M258.1 92.2h0M292.9 127.4h0M252.4 134.5h0M258.2 116.0h0M287.9 122.0h0M242.9 96.7h0M237.9 119.7h0M232.4 110.2h0M258.4 132.3h0M240.5 123.2h0M252.9 106.5h0M247.1 129.2h0M273.3 107.4h0M280.8 98.5h0M268.8 122.9h0M290.2 98.0h0M278.1 130.1h0M246.2 109.5h0M263.4 102.8h0M243.4 102.5h0M256.1 100.9h0M257.1 86.1h0M250.0 96.3h0M292.0 107.4h0M282.8 103.9h0M269.9 93.0h0M268.0 109.1h0M284.6 94.1h0M254.7 126.4h0M286.1 118.8h0M277.4 94.4h0M254.5 91.8h0M265.0 135.7h0M272.2 118.4h0M298.1 122.5h0M274.3 132.1h0M275.9 97.0h0M261.6 115.4h0M258.2 123.9h0M289.7 91.2h0M264.2 113.0h0M280.0 124.7h0M296.9 102.3h0M247.6 113.6h0M284.4 106.6h0M238.3 106.8h0M258.2 109.6h0M265.4 86.2h0M283.8 89.2h0M300.6 118.5h0M243.7 124.8h0M282.7 92.3h0M262.1 133.1h0M270.7 127.9h0M280.6 111.1h0M254.3 119.3h0M287.3 98.4h0M266.2 88.8h0M260.9 89.5h0M270.0 132.0h0M278.4 117.3h0M292.8 114.4h0M250.4 113.9h0M259.5 120.7h0M244.7 91.0h0M271.7 124.6h0M281.4 119.3h0M292.4 96.5h0M249.2 102.5h0M266.3 92.5h0M237.7 109.8h0M278.0 106.1h0M247.0 126.5h0M289.2 117.8h0M295.6 98.9h0M282.3 114.6h0M275.0 129.2h0M245.7 105.2h0M249.5 89.9h0M233.5 106.8h0M268.7 101.5h0M269.9 114.9h0M292.5 118.3h0M257.7 98.7h0M263.3 127.1h0M269.3 117.7h0M260.3 128.9h0M251.2 110.0h0M288.5 110.0h0M234.3 114.8h0M265.0 98.1h0M241.8 94.3h0M284.3 128.7h0M244.6 114.7h0M268.6 136.6h0M276.7 134.3h0M272.1 100.8h0M263.8 91.3h0M291.5 93.7h0M246.3 93.7h0M246.2 120.0h0M249.2 107.5h0M259.4 95.1h0M238.3 99.8h0M287.1 105.9h0M273.8 94.7h0M242.2 99.9h0M250.8 127.3h0M288.6 129.8h0M275.3 124.1h0M284.5 110.0h0M277.6 125.9h0M258.2 104.6h0M274.2 86.8h0M283.0 121.8h0M294.4 109.9h0M265.3 129.7h0M275.6 92.0h0M285.5 123.6h0M240.8 116.3h0M302.8 111.7h0M297.7 105.2h0M236.1 123.3h0M263.2 95.2h0M251.9 87.6h0M252.2 90.4h0M266.3 119.8h0M299.5 115.3h0M264.0 109.4h0M291.0 121.3h0M235.5 118.3h0M300.5 108.8h0M252.8 102.2h0M238.0 116.1h0M262.0 106.6h0M297.2 118.0h0M257.7 129.8h0M261.0 99.8h0M294.9 120.8h0M261.6 112.0h0M247.8 132.8h0M282.5 131.3h0M250.2 99.7h0M241.2 104.3h0M264.6 116.6h0M269.5 85.3h0M280.5 95.4h0M260.0 126.3h0M269.8 106.2h0M245.5 100.4h0M257.2 113.4h0M255.5 134.9h0M286.7 112.2h0M279.7 103.8h0M264.8 132.8h0M278.0 90.7h0M284.7 97.0h0M243.6 119.7h0M251.0 132.2h0M295.1 106.5h0M275.0 117.1h0M248.9 92.7h0M275.9 108.2h0M265.3 107.0h0M299.9 103.0h0M273.7 121.5h0M280.6 133.6h0M236.2 104.9h0M300.4 105.9h0M280.2 86.8h0M298.5 99.8h0M240.1 96.8h0M247.2 117.4h0M272.9 98.0h0M240.5 125.9h0M276.8 101.9h0M262.8 118.9h0M282.5 126.0h0M249.0 121.1h0M273.9 126.4h0M255.9 111.0h0M238.8 112.3h0M271.0 135.0h0M256.7 107.3h0M290.6 102.0h0M281.3 90.1h0M266.1 122.8h0M256.6 90.0h0M290.1 113.9h0M252.6 117.3h0M272.8 89.8h0M287.5 89.5h0M281.1 128.3h0M274.1 111.4h0M302.5 115.1h0M295.9 96.0h0M267.7 127.8h0M256.4 95.2h0M240.7 119.5h0M260.0 135.1h0M289.8 126.8h0M275.6 113.9h0M281.8 107.8h0M260.6 85.0h0M296.0 114.1h0M257.4 119.1h0M284.8 133.2h0M254.9 103.9h0M251.0 104.7h0M234.5 102.2h0M278.6 109.3h0M293.8 103.5h0M242.3 112.9h0M266.8 114.1h0M246.3 123.9h0M254.4 114.3h0M234.9 111.5h0M291.7 111.7h0M252.5 94.9h0M277.1 85.6h0M257.3 127.1h0M238.0 102.7h0M245.9 97.7h0M249.9 118.5h0M250.2 124.2h0M266.2 104.4h0M270.2 98.6h0M261.7 92.8h0M269.5 120.3h0M243.3 129.7h0M270.9 95.6h0M291.3 129.7h0M267.5 133.4h0M255.4 131.9h0M277.6 99.2h0M259.6 102.1h0M241.0 107.6h0M270.9 103.5h0M296.9 108.7h0M268.4 111.9h0M292.4 124.0h0M272.8 113.8h0M243.9 107.5h0M261.7 122.7h0M234.7 121.0h0M280.8 101.2h0M275.2 105.4h0M288.5 95.5h0M254.6 88.1h0M273.7 136.3h0M265.7 100.6h0" stroke="#0c76b8" stroke-width="3.80" stroke-linecap="round" fill="none"/>
<path d="M225.1 91.9h0M227.1 94.3h0M225.6 88.3h0M218.3 85.9h0M214.0 84.2h0M219.4 88.9h0M219.9 98.2h0M222.7 86.0h0M214.1 90.5h0M223.7 97.6h0M220.4 95.3h0M217.6 94.0h0M226.5 83.7h0M219.2 81.3h0M212.4 94.6h0M211.3 88.3h0M214.3 97.1h0M222.8 81.8h0M223.5 94.6h0M222.4 89.9h0M210.1 91.0h0M228.5 89.1h0M214.3 87.2h0M211.1 85.0h0M219.9 91.9h0M216.3 82.1h0M217.1 91.1h0M220.7 83.9h0M217.2 97.0h0M228.3 86.0h0M228.8 92.0h0M231.7 92.3h0M234.1 95.8h0" stroke="#ac5cc4" stroke-width="3.80" stroke-linecap="round" fill="none"/>
<path d="M215.2 133.8h0M217.4 121.5h0M213.5 125.1h0M224.9 126.7h0M217.4 128.9h0M223.6 133.7h0M218.7 134.1h0M210.9 126.7h0M210.2 123.4h0M222.5 129.1h0M220.3 131.4h0M225.0 131.1h0M217.5 125.6h0M207.5 128.5h0M210.0 132.9h0M212.3 134.6h0M220.8 126.6h0M212.2 130.1h0M221.6 123.3h0M216.7 137.0h0M213.4 122.0h0M220.9 136.0h0M214.3 128.1h0M214.9 130.9h0M208.2 125.5h0M207.6 131.3h0M224.3 124.0h0" stroke="#9c4a3a" stroke-width="3.80" stroke-linecap="round" fill="none"/>
<text class="cap" x="274.7" y="180.6" text-anchor="middle">(<tspan font-weight="bold">b</tspan>)</text>
<rect x="396.9" y="2.7" width="145.0" height="140.6" fill="#fff" stroke="#828282" stroke-width="1"/>
<path d="M398.5 143.8v2M417.7 143.8v2M436.8 143.8v2M456.0 143.8v2M475.1 143.8v2M494.3 143.8v2M513.5 143.8v2M532.6 143.8v2M396.4 141.3h-2M396.4 122.2h-2M396.4 103.0h-2M396.4 83.9h-2M396.4 64.7h-2M396.4 45.6h-2M396.4 26.5h-2M396.4 7.3h-2" stroke="#555" stroke-width="0.6" fill="none"/>
<text x="398.5" y="151.2" text-anchor="middle">0</text>
<text x="417.7" y="151.2" text-anchor="middle">2</text>
<text x="436.8" y="151.2" text-anchor="middle">4</text>
<text x="456.0" y="151.2" text-anchor="middle">6</text>
<text x="475.1" y="151.2" text-anchor="middle">8</text>
<text x="494.3" y="151.2" text-anchor="middle">10</text>
<text x="513.5" y="151.2" text-anchor="middle">12</text>
<text x="532.6" y="151.2" text-anchor="middle">14</text>
<text x="392.7" y="143.2" text-anchor="end">14</text>
<text x="392.7" y="124.1" text-anchor="end">16</text>
<text x="392.7" y="104.9" text-anchor="end">18</text>
<text x="392.7" y="85.8" text-anchor="end">20</text>
<text x="392.7" y="66.6" text-anchor="end">22</text>
<text x="392.7" y="47.5" text-anchor="end">24</text>
<text x="392.7" y="28.4" text-anchor="end">26</text>
<text x="392.7" y="9.2" text-anchor="end">28</text>
<path d="M478.6 42.1h0M478.9 13.0h0M498.6 30.6h0M480.7 24.4h0M462.3 17.3h0M453.2 30.6h0M493.2 45.1h0M476.1 50.3h0M472.3 19.8h0M479.9 56.7h0M490.4 56.0h0M455.7 13.0h0M463.8 52.5h0M449.8 36.7h0M450.7 51.9h0M436.5 38.8h0M483.9 40.9h0M475.6 68.4h0M461.8 57.3h0M479.2 31.6h0M475.4 36.5h0M462.0 67.5h0M465.5 27.9h0M449.3 59.1h0M454.8 45.3h0M496.2 38.3h0M449.0 43.4h0M479.2 62.1h0M472.9 26.4h0M440.1 47.6h0M444.0 36.4h0M493.1 28.2h0M455.7 66.8h0M470.5 52.9h0M466.5 46.6h0M460.3 37.8h0M460.4 46.7h0M465.7 41.7h0M450.6 20.3h0M482.7 51.9h0M445.4 28.5h0M469.5 66.9h0M466.1 72.4h0M487.4 34.5h0M465.6 62.6h0M487.4 27.9h0M472.3 13.1h0M438.6 30.2h0M459.2 24.4h0M454.5 38.3h0M443.1 56.6h0M484.5 14.4h0M445.4 48.1h0M490.3 22.8h0M469.3 58.5h0M464.8 33.7h0M457.9 29.5h0M457.8 53.0h0M485.7 62.8h0M456.7 19.0h0M454.3 57.6h0M470.6 35.8h0M472.2 47.8h0M457.9 77.2h0M471.9 42.1h0M484.9 46.9h0M466.4 11.7h0M480.6 18.5h0M441.3 24.1h0M469.0 30.8h0M451.6 25.7h0M467.0 37.8h0M474.4 59.2h0M444.3 18.7h0M480.4 36.2h0M465.6 22.0h0M458.6 62.0h0M490.6 38.8h0M490.0 49.5h0M473.9 31.1h0M460.2 42.2h0M441.8 41.5h0M479.7 46.9h0M481.7 67.9h0M456.5 34.0h0M416.5 8.9h0M411.3 20.0h0" stroke="#0c76b8" stroke-width="3.90" stroke-linecap="round" fill="none"/>
<path d="M424.6 97.8h0M512.6 87.5h0M445.2 95.1h0M482.5 129.0h0M457.2 95.9h0M408.8 66.8h0M423.1 75.4h0M451.5 99.6h0M490.7 94.5h0M442.7 114.0h0M517.2 56.4h0M525.8 70.4h0M471.7 131.5h0M468.5 80.6h0M510.6 71.6h0M452.5 114.5h0M520.1 67.0h0M474.5 104.4h0M449.4 91.2h0M488.9 130.1h0M517.5 97.0h0M477.6 124.2h0M412.5 60.6h0M414.3 73.1h0M482.0 110.0h0M436.8 87.0h0M456.6 83.9h0M531.9 59.1h0M500.8 100.1h0M447.9 83.8h0M464.6 90.0h0M468.6 128.1h0M490.2 120.4h0M436.3 97.4h0M423.0 89.2h0M442.0 104.5h0M422.2 82.8h0M477.7 100.7h0M503.3 112.0h0M438.0 110.9h0M511.4 97.1h0M420.8 68.9h0M528.8 48.3h0M435.6 105.8h0M440.1 91.4h0M495.3 98.0h0M488.7 110.1h0M450.6 110.2h0M476.5 119.2h0M455.6 106.9h0M465.4 97.3h0M467.9 110.4h0M434.7 117.6h0M489.5 100.7h0M428.5 79.9h0M463.1 126.7h0M429.6 96.3h0M500.4 91.6h0M522.1 49.1h0M413.6 82.9h0M469.3 94.8h0M471.3 115.5h0M443.4 124.0h0M497.1 111.4h0M475.6 114.8h0M466.8 123.8h0M434.9 81.8h0M460.8 103.8h0M496.0 86.5h0M431.1 89.6h0M461.3 111.8h0M508.1 106.4h0M481.7 91.7h0M521.1 74.9h0M490.0 115.2h0M481.0 133.7h0M483.3 102.3h0M466.1 117.2h0M524.6 79.9h0M481.2 97.0h0M449.4 127.4h0M447.7 115.7h0M458.2 127.3h0M504.9 80.4h0M522.0 85.4h0M497.7 119.4h0M502.6 106.5h0M473.9 110.3h0M469.7 119.8h0M456.9 88.7h0M430.5 107.0h0M505.9 74.8h0M470.0 86.6h0M404.8 60.9h0M510.4 80.4h0M455.1 119.4h0M439.7 120.7h0M489.4 89.6h0M506.5 94.0h0M492.3 104.8h0M408.5 75.3h0M455.2 132.4h0M447.0 104.8h0M451.0 122.9h0M473.1 97.1h0M482.8 118.9h0M463.6 133.5h0M531.1 66.6h0M523.5 55.4h0M475.2 91.8h0M505.0 88.5h0M459.8 120.0h0M417.3 91.0h0M457.5 115.4h0M479.3 105.6h0M465.2 105.1h0M470.6 100.7h0M472.7 124.3h0M516.5 81.2h0M465.1 84.9h0M476.3 132.3h0M493.2 125.2h0M485.9 96.5h0M514.8 64.0h0M420.3 61.3h0M476.2 78.6h0M497.7 81.5h0M483.9 123.5h0M442.7 86.1h0M456.1 100.8h0M512.3 102.4h0M444.5 109.0h0M497.4 104.7h0M507.0 99.9h0M467.9 135.8h0M525.7 63.2h0M425.2 103.5h0M518.1 90.0h0M426.6 70.5h0M431.6 113.2h0M487.4 105.6h0M432.5 101.1h0M445.2 100.1h0M411.4 53.6h0M470.1 105.8h0M461.2 98.9h0M480.4 114.4h0M485.8 113.6h0M461.8 93.7h0M418.9 96.9h0M461.9 116.0h0M534.0 52.8h0M448.5 73.0h0" stroke="#ff7f0e" stroke-width="3.90" stroke-linecap="round" fill="none"/>
<text class="cap" x="462.6" y="180.6" text-anchor="middle">(<tspan font-weight="bold">c</tspan>)</text>
<rect x="14.1" y="189.3" width="152.1" height="153.0" fill="#fff" stroke="#828282" stroke-width="1"/>
<path d="M26.6 342.8v2M46.8 342.8v2M66.9 342.8v2M87.1 342.8v2M107.2 342.8v2M127.4 342.8v2M147.6 342.8v2M13.6 327.2h-2M13.6 307.0h-2M13.6 286.9h-2M13.6 266.7h-2M13.6 246.6h-2M13.6 226.4h-2M13.6 206.2h-2" stroke="#555" stroke-width="0.6" fill="none"/>
<text x="26.6" y="351.0" text-anchor="middle">4</text>
<text x="46.8" y="351.0" text-anchor="middle">6</text>
<text x="66.9" y="351.0" text-anchor="middle">8</text>
<text x="87.1" y="351.0" text-anchor="middle">10</text>
<text x="107.2" y="351.0" text-anchor="middle">12</text>
<text x="127.4" y="351.0" text-anchor="middle">14</text>
<text x="147.6" y="351.0" text-anchor="middle">16</text>
<text x="9.9" y="329.1" text-anchor="end">4</text>
<text x="9.9" y="308.9" text-anchor="end">6</text>
<text x="9.9" y="288.8" text-anchor="end">8</text>
<text x="9.9" y="268.6" text-anchor="end">10</text>
<text x="9.9" y="248.5" text-anchor="end">12</text>
<text x="9.9" y="228.3" text-anchor="end">14</text>
<text x="9.9" y="208.1" text-anchor="end">16</text>
<path d="M71.7 202.5h0M79.1 206.2h0M68.6 203.3h0M71.8 203.9h0M68.7 204.4h0M74.6 210.2h0M74.8 205.5h0M71.2 208.7h0M70.4 205.9h0M72.7 199.5h0M71.7 200.4h0M75.0 202.8h0M76.4 198.9h0M73.8 199.4h0M75.2 198.2h0M72.7 204.2h0M69.1 207.6h0M74.4 207.7h0M76.9 199.0h0M71.3 202.4h0M76.2 207.0h0M71.5 200.7h0M71.3 200.8h0M73.0 202.7h0M77.4 202.1h0M72.9 205.3h0M70.8 201.7h0M73.8 206.7h0M71.5 206.6h0M72.7 204.0h0M76.5 206.2h0M77.2 204.1h0M73.7 204.7h0M70.6 208.6h0M71.3 197.8h0M77.4 203.0h0M71.7 207.7h0M72.7 207.9h0M71.2 202.2h0M70.8 198.7h0" stroke="#b04a1a" stroke-width="4.00" stroke-linecap="round" fill="none"/>
<path d="M25.2 237.5h0M30.6 244.7h0M25.0 243.0h0M26.6 237.1h0M25.8 233.8h0M26.0 231.8h0M28.9 234.3h0M33.6 238.7h0M29.5 243.7h0M30.9 237.7h0M28.6 237.3h0M33.0 241.9h0M30.3 242.0h0M26.8 240.5h0M26.0 241.7h0M29.2 238.8h0M31.2 237.9h0M27.9 243.9h0M29.3 233.3h0M30.6 229.2h0M35.1 237.0h0M29.0 244.2h0M33.4 238.2h0M31.3 243.4h0M35.2 237.2h0M29.4 244.1h0M29.9 241.7h0M31.2 232.1h0M27.1 230.5h0M27.9 244.7h0M24.7 244.2h0M32.7 237.6h0M28.9 238.3h0M25.7 236.5h0M28.7 241.0h0M31.9 234.1h0M32.0 234.0h0M28.3 239.8h0M28.8 237.3h0M29.9 235.1h0M38.0 233.9h0" stroke="#a6c83c" stroke-width="4.00" stroke-linecap="round" fill="none"/>
<path d="M124.6 216.3h0M130.7 216.8h0M131.0 217.7h0M120.9 216.2h0M133.4 217.2h0M125.4 213.5h0M132.1 221.4h0M129.6 219.0h0M132.5 220.7h0M122.5 220.4h0M127.7 216.7h0M130.0 217.3h0M121.0 220.8h0M131.0 216.7h0M125.7 218.2h0M122.3 218.5h0M126.2 215.7h0M123.6 214.3h0M131.3 222.8h0M129.0 217.0h0M123.8 220.2h0M130.4 213.5h0M129.5 212.2h0M125.8 218.8h0M124.3 213.7h0M127.8 220.9h0M125.3 222.9h0M125.5 221.3h0M127.6 218.2h0M129.4 218.5h0M130.9 222.3h0M129.2 216.5h0M122.7 214.0h0M127.1 216.8h0M126.9 217.2h0M129.0 211.5h0M123.2 221.9h0M130.3 214.9h0M132.0 214.4h0M126.2 209.5h0" stroke="#8a2050" stroke-width="4.00" stroke-linecap="round" fill="none"/>
<path d="M87.6 247.9h0M88.7 251.0h0M83.9 248.6h0M89.3 247.2h0M82.7 248.2h0M87.4 252.0h0M88.6 247.8h0M89.8 245.2h0M86.5 248.6h0M92.1 250.7h0M81.4 250.6h0M85.3 246.7h0M82.2 244.0h0M91.0 248.3h0M88.4 243.0h0M78.3 247.4h0M82.9 251.6h0M78.7 250.5h0M91.1 244.1h0M88.1 243.9h0M85.4 249.7h0M92.2 245.1h0M84.5 252.7h0M77.9 248.1h0M79.4 245.1h0M87.0 251.2h0M90.5 251.3h0M90.0 247.4h0M82.2 248.7h0M77.4 252.0h0M80.3 243.5h0M81.4 251.9h0M89.7 246.4h0M85.7 247.8h0M78.7 248.8h0M83.7 241.3h0M86.5 244.2h0M84.7 243.4h0M79.5 245.0h0M87.0 242.5h0" stroke="#b8e810" stroke-width="4.00" stroke-linecap="round" fill="none"/>
<path d="M98.8 257.8h0M96.8 251.0h0M102.3 248.5h0M101.5 248.2h0M102.4 251.3h0M95.8 257.2h0M99.2 249.9h0M95.8 249.0h0M99.2 251.8h0M104.0 245.3h0M98.1 256.3h0M100.3 252.8h0M106.0 252.5h0M101.4 250.9h0M103.5 253.5h0M96.6 253.4h0M94.9 255.8h0M102.3 250.3h0M97.9 243.2h0M102.6 250.5h0M98.3 254.2h0M96.8 248.5h0M96.7 245.1h0M104.9 250.5h0M98.1 254.9h0M92.5 250.9h0M99.5 246.8h0M100.5 246.1h0M99.5 254.7h0M94.5 247.4h0M98.6 250.6h0M96.5 252.2h0M100.1 244.6h0M98.6 244.9h0M94.5 244.9h0M103.0 249.7h0M103.5 247.1h0M97.4 251.7h0M98.2 252.4h0M99.4 247.6h0M106.1 242.3h0" stroke="#8a0a8a" stroke-width="4.00" stroke-linecap="round" fill="none"/>
<path d="M63.9 255.4h0M74.6 261.0h0M73.3 254.8h0M67.7 253.5h0M69.8 257.9h0M70.1 265.8h0M65.4 261.0h0M63.4 262.7h0M66.9 257.3h0M69.0 265.3h0M68.3 255.3h0M64.2 258.9h0M65.4 255.3h0M68.4 260.8h0M65.9 260.7h0M72.2 254.1h0M71.4 263.4h0M66.3 260.5h0M63.5 259.2h0M67.3 259.1h0M65.1 253.8h0M66.8 254.3h0M66.2 256.6h0M64.4 256.9h0M69.6 251.9h0M69.1 254.1h0M66.4 254.4h0M65.3 254.0h0M69.6 251.6h0M72.1 253.6h0M70.8 262.5h0M63.9 262.5h0M73.0 256.7h0M70.6 257.1h0M68.9 256.9h0M66.8 261.2h0M71.9 257.9h0M74.2 263.1h0M71.3 254.7h0M72.6 261.5h0M63.1 265.0h0" stroke="#1010d0" stroke-width="4.00" stroke-linecap="round" fill="none"/>
<path d="M82.1 262.0h0M85.0 268.0h0M92.3 263.2h0M88.1 267.1h0M81.7 266.7h0M85.8 265.1h0M86.9 259.8h0M82.9 264.6h0M87.6 263.4h0M91.6 263.0h0M82.0 263.0h0M86.4 263.9h0M92.0 266.4h0M91.5 266.8h0M86.4 268.5h0M86.0 265.4h0M82.9 264.8h0M85.8 265.9h0M91.3 269.5h0M91.4 264.3h0M90.6 265.3h0M84.6 264.2h0M86.1 262.1h0M92.9 262.3h0M85.0 267.2h0M84.2 259.9h0M83.6 266.3h0M88.7 265.6h0M85.2 260.9h0M91.0 258.8h0M86.3 259.3h0M85.4 263.9h0M90.0 258.3h0M92.9 261.0h0M88.4 267.6h0M84.0 264.1h0M89.3 264.0h0M84.1 265.2h0M87.7 258.6h0M92.9 265.4h0M90.2 274.8h0" stroke="#20e8b8" stroke-width="4.00" stroke-linecap="round" fill="none"/>
<path d="M101.4 264.8h0M111.3 270.0h0M108.4 260.0h0M106.2 270.8h0M109.0 265.3h0M104.1 269.9h0M106.3 267.9h0M109.4 273.1h0M108.1 267.7h0M102.9 269.0h0M111.1 266.6h0M101.8 265.4h0M107.4 271.1h0M109.8 269.8h0M110.8 271.9h0M102.3 263.3h0M102.1 265.5h0M105.7 267.0h0M102.8 267.0h0M105.1 271.1h0M105.9 272.1h0M111.1 264.0h0M111.4 269.0h0M100.5 269.0h0M106.8 268.0h0M103.5 266.4h0M109.0 265.9h0M104.6 266.0h0M103.0 268.0h0M101.0 269.8h0M107.5 268.5h0M110.9 261.7h0M112.6 264.1h0M109.2 267.9h0M112.9 266.6h0M101.1 267.9h0M101.2 266.1h0M105.2 272.7h0M106.0 264.8h0M103.9 263.2h0M109.6 257.2h0" stroke="#a070f0" stroke-width="4.00" stroke-linecap="round" fill="none"/>
<path d="M65.7 278.5h0M62.6 274.9h0M62.0 275.1h0M68.6 270.5h0M65.6 276.3h0M71.1 280.0h0M67.5 271.5h0M61.3 279.2h0M73.6 277.4h0M74.3 273.8h0M66.3 282.6h0M63.8 278.4h0M69.5 276.5h0M71.8 273.7h0M66.9 270.8h0M63.6 273.6h0M66.3 274.9h0M69.1 272.9h0M63.5 276.2h0M69.6 270.7h0M66.1 280.0h0M72.1 280.6h0M70.6 276.4h0M65.8 278.3h0M67.1 273.9h0M67.8 275.4h0M71.5 271.6h0M73.5 273.4h0M66.2 279.9h0M64.5 273.7h0M68.0 268.7h0M65.8 271.6h0M66.9 278.0h0M70.5 282.4h0M73.8 280.3h0M67.7 280.4h0M63.8 275.4h0M73.8 279.3h0M62.2 273.2h0M71.6 278.5h0M60.0 274.8h0" stroke="#0a8a4a" stroke-width="4.00" stroke-linecap="round" fill="none"/>
<path d="M85.0 282.4h0M76.9 285.2h0M78.2 286.0h0M82.5 287.5h0M81.9 288.3h0M85.9 286.7h0M77.1 291.1h0M83.4 287.8h0M83.2 280.1h0M85.0 283.7h0M77.1 291.1h0M81.1 287.3h0M86.4 292.3h0M78.1 284.6h0M85.4 283.6h0M74.6 286.4h0M83.5 289.2h0M83.5 284.5h0M83.4 286.0h0M80.3 287.1h0M84.0 282.3h0M87.0 289.3h0M84.3 280.4h0M83.0 285.7h0M78.1 288.4h0M78.8 288.7h0M84.2 284.2h0M88.7 287.9h0M83.9 281.2h0M84.8 291.5h0M87.3 281.2h0M85.8 289.5h0M86.1 284.7h0M75.8 282.7h0M79.9 287.1h0M84.8 283.3h0M75.2 284.5h0M76.5 291.1h0M76.9 287.8h0M85.9 282.3h0" stroke="#10a010" stroke-width="4.00" stroke-linecap="round" fill="none"/>
<path d="M103.8 281.3h0M95.9 278.0h0M99.8 286.2h0M94.8 283.3h0M98.6 278.7h0M98.8 281.8h0M99.0 285.1h0M97.2 286.3h0M103.2 279.4h0M94.7 281.9h0M97.5 284.9h0M101.2 286.2h0M98.8 285.1h0M97.5 280.4h0M106.1 281.4h0M98.9 280.5h0M100.9 284.4h0M98.9 277.3h0M101.0 278.6h0M97.9 282.9h0M100.1 276.8h0M107.0 285.3h0M104.2 287.7h0M95.4 279.7h0M100.6 285.8h0M97.2 280.7h0M104.1 278.3h0M100.3 286.4h0M98.2 285.1h0M98.9 275.4h0M96.9 281.0h0M97.8 281.9h0M101.0 282.9h0M100.0 279.9h0M98.2 280.1h0M96.5 287.3h0M94.7 282.3h0M91.9 279.1h0M102.5 280.3h0M105.1 277.6h0" stroke="#10c0e0" stroke-width="4.00" stroke-linecap="round" fill="none"/>
<path d="M27.7 293.5h0M29.3 294.4h0M27.2 295.6h0M34.9 295.7h0M29.3 294.4h0M25.2 291.0h0M23.4 295.3h0M23.8 296.5h0M26.6 292.4h0M25.9 297.0h0M30.7 295.9h0M34.4 299.2h0M22.2 297.8h0M25.1 291.3h0M26.4 298.4h0M27.7 294.1h0M36.9 297.0h0M29.2 300.9h0M32.3 293.6h0M24.2 294.5h0M30.8 298.5h0M34.4 296.1h0M23.9 298.5h0M30.5 292.6h0M23.5 296.4h0M31.8 298.1h0M26.4 298.9h0M20.4 295.6h0M36.9 298.8h0M24.8 297.5h0M36.3 297.9h0M27.1 298.4h0M21.2 295.8h0M24.1 294.4h0M28.0 297.1h0M23.0 296.3h0M36.5 295.9h0M32.5 296.9h0M25.7 294.5h0M29.9 297.0h0" stroke="#0a6070" stroke-width="4.00" stroke-linecap="round" fill="none"/>
<path d="M77.1 333.3h0M71.4 327.9h0M71.2 324.7h0M77.7 331.7h0M69.4 329.8h0M77.7 330.8h0M74.9 330.5h0M70.4 325.0h0M70.2 330.3h0M72.3 332.4h0M79.3 332.1h0M76.1 328.3h0M70.7 334.5h0M75.7 334.4h0M71.9 323.0h0M75.8 325.1h0M72.6 327.6h0M74.0 333.0h0M74.8 325.2h0M75.2 325.7h0M75.6 328.0h0M69.2 327.7h0M68.5 329.7h0M76.5 332.9h0M73.3 334.1h0M74.2 334.5h0M75.0 327.4h0M72.2 326.8h0M72.2 329.2h0M75.6 332.9h0M73.4 331.5h0M70.6 327.6h0M68.4 328.1h0M72.3 335.5h0M68.4 330.0h0M72.0 323.5h0M74.1 329.8h0M70.4 324.7h0M73.0 324.1h0M75.6 328.7h0M64.5 333.6h0" stroke="#0830b0" stroke-width="4.00" stroke-linecap="round" fill="none"/>
<path d="M129.9 315.8h0M134.3 319.7h0M134.2 317.5h0M123.4 311.6h0M125.6 318.2h0M126.3 322.3h0M127.5 318.9h0M128.2 312.3h0M132.4 319.6h0M131.6 313.6h0M127.9 317.0h0M132.9 311.9h0M130.8 322.1h0M126.1 314.1h0M133.6 318.2h0M132.8 320.2h0M132.6 316.6h0M122.9 318.5h0M125.1 319.7h0M125.7 323.6h0M127.0 320.5h0M132.8 317.0h0M129.4 317.2h0M124.0 323.0h0M124.1 311.3h0M125.8 317.8h0M128.3 316.0h0M126.8 312.6h0M129.4 320.9h0M126.2 313.3h0M131.2 316.6h0M118.4 315.6h0M121.7 312.7h0M132.6 319.3h0M127.3 317.3h0M131.7 314.9h0M131.2 314.8h0M131.6 318.2h0M124.8 321.4h0M129.2 321.2h0M128.0 326.0h0" stroke="#a8a888" stroke-width="4.00" stroke-linecap="round" fill="none"/>
<path d="M150.8 267.5h0M149.8 272.0h0M149.6 266.9h0M157.0 269.1h0M153.3 268.0h0M153.5 269.6h0M151.6 262.2h0M157.1 262.5h0M155.8 267.5h0M158.5 269.5h0M153.8 270.8h0M147.2 267.6h0M150.9 266.9h0M148.1 261.7h0M154.8 267.0h0M150.6 266.4h0M149.8 264.7h0M154.6 265.8h0M154.7 263.8h0M148.5 265.2h0M151.6 262.0h0M150.7 264.6h0M155.4 270.2h0M156.0 263.4h0M153.3 272.1h0M152.7 266.4h0M149.3 270.2h0M152.7 270.9h0M151.8 271.5h0M152.0 261.5h0M152.8 268.7h0M156.7 264.6h0M150.1 265.5h0M151.3 261.8h0M154.6 271.9h0M149.3 262.5h0M151.5 263.2h0M154.9 264.0h0M154.3 261.4h0M149.3 263.1h0M157.5 260.9h0M159.5 269.7h0" stroke="#a088c8" stroke-width="4.00" stroke-linecap="round" fill="none"/>
<text class="cap" x="86.7" y="381.5" text-anchor="middle">(<tspan font-weight="bold">d</tspan>)</text>
<rect x="201.5" y="188.3" width="153.8" height="151.9" fill="#fff" stroke="#828282" stroke-width="1"/>
<path d="M218.1 340.7v2M242.2 340.7v2M266.3 340.7v2M290.4 340.7v2M314.5 340.7v2M338.6 340.7v2M201.0 323.7h-2M201.0 299.6h-2M201.0 275.5h-2M201.0 251.4h-2M201.0 227.3h-2M201.0 203.2h-2" stroke="#555" stroke-width="0.6" fill="none"/>
<text x="218.1" y="348.9" text-anchor="middle">5</text>
<text x="242.2" y="348.9" text-anchor="middle">10</text>
<text x="266.3" y="348.9" text-anchor="middle">15</text>
<text x="290.4" y="348.9" text-anchor="middle">20</text>
<text x="314.5" y="348.9" text-anchor="middle">25</text>
<text x="338.6" y="348.9" text-anchor="middle">30</text>
<text x="197.3" y="325.6" text-anchor="end">5</text>
<text x="197.3" y="301.5" text-anchor="end">10</text>
<text x="197.3" y="277.4" text-anchor="end">15</text>
<text x="197.3" y="253.3" text-anchor="end">20</text>
<text x="197.3" y="229.2" text-anchor="end">25</text>
<text x="197.3" y="205.1" text-anchor="end">30</text>
<path d="M296.9 276.2h0M297.9 275.8h0M298.8 275.3h0M299.8 274.7h0M300.7 274.1h0M301.5 273.4h0M302.3 272.5h0M303.1 271.6h0M303.8 270.7h0M304.4 269.6h0M304.9 268.5h0M305.4 267.4h0M305.8 266.2h0M306.1 264.9h0M306.3 263.6h0M306.5 262.3h0M306.5 260.9h0M306.5 259.6h0M306.4 258.1h0M306.1 256.7h0M305.8 255.3h0M305.4 253.9h0M304.9 252.5h0M304.3 251.0h0M303.6 249.6h0M302.8 248.3h0M301.9 246.9h0M301.0 245.6h0M299.9 244.3h0M298.7 243.0h0M297.5 241.8h0M296.2 240.6h0M294.7 239.5h0M293.2 238.5h0M291.6 237.5h0M290.0 236.5h0M288.2 235.7h0M286.4 234.9h0M284.5 234.2h0M282.5 233.6h0M280.4 233.2h0M278.3 232.8h0M276.1 232.5h0M273.9 232.4h0M271.6 232.4h0M269.2 232.6h0M266.9 232.9h0M264.5 233.3h0M262.1 233.9h0M259.7 234.6h0M257.3 235.6h0M254.9 236.7h0M252.5 237.9h0M250.2 239.3h0M247.9 241.0h0M245.7 242.7h0M243.6 244.7h0M241.6 246.8h0M239.7 249.1h0M237.9 251.6h0M236.3 254.2h0M234.8 256.9h0M233.5 259.8h0M232.3 262.9h0M231.4 266.0h0M230.7 269.3h0M230.2 272.6h0M229.9 276.1h0M229.8 279.6h0M230.0 283.1h0M230.5 286.7h0M231.2 290.2h0M232.2 293.8h0M233.5 297.3h0M235.0 300.7h0M236.8 304.1h0M238.9 307.3h0M241.2 310.5h0M243.8 313.4h0M246.6 316.3h0M249.6 318.9h0M252.8 321.4h0M256.2 323.6h0M259.8 325.7h0M263.6 327.5h0M267.5 329.1h0M271.6 330.4h0M275.8 331.5h0M280.0 332.4h0M284.4 332.9h0M288.9 333.2h0M293.4 333.2h0M298.0 333.0h0M302.7 332.4h0M307.4 331.6h0M312.0 330.4h0M316.7 329.0h0M321.4 327.2h0M326.1 325.1h0M330.7 322.7h0M335.3 320.0h0M339.8 317.0h0M344.2 313.5h0M348.6 309.8h0" stroke="#0c76b8" stroke-width="4.20" stroke-linecap="round" fill="none"/>
<path d="M269.8 277.5h0M269.9 278.3h0M270.1 279.2h0M270.3 280.0h0M270.6 280.9h0M270.9 281.8h0M271.3 282.7h0M271.7 283.6h0M272.2 284.5h0M272.7 285.4h0M273.4 286.3h0M274.0 287.2h0M274.8 288.0h0M275.6 288.9h0M276.4 289.7h0M277.4 290.5h0M278.4 291.3h0M279.5 292.0h0M280.6 292.7h0M281.9 293.4h0M283.1 293.9h0M284.5 294.5h0M285.9 294.9h0M287.4 295.3h0M288.9 295.6h0M290.5 295.8h0M292.1 295.9h0M293.8 295.9h0M295.5 295.9h0M297.2 295.7h0M299.0 295.4h0M300.8 295.0h0M302.5 294.4h0M304.3 293.8h0M306.1 293.0h0M307.9 292.1h0M309.6 291.0h0M311.3 289.9h0M313.0 288.6h0M314.6 287.1h0M316.1 285.6h0M317.6 283.9h0M319.0 282.1h0M320.2 280.2h0M321.4 278.1h0M322.5 276.0h0M323.4 273.7h0M324.2 271.4h0M324.9 269.0h0M325.4 266.5h0M325.7 263.9h0M325.9 261.2h0M325.9 258.6h0M325.7 255.8h0M325.3 253.1h0M324.8 250.4h0M324.0 247.6h0M323.1 244.9h0M322.0 242.2h0M320.6 239.6h0M319.1 237.0h0M317.4 234.5h0M315.5 232.1h0M313.5 229.7h0M311.2 227.5h0M308.8 225.4h0M306.3 223.4h0M303.6 221.6h0M300.7 219.9h0M297.7 218.4h0M294.5 217.0h0M291.3 215.9h0M287.9 214.9h0M284.4 214.1h0M280.9 213.5h0M277.2 213.2h0M273.5 213.0h0M269.7 213.1h0M265.9 213.4h0M262.0 214.0h0M258.2 214.8h0M254.3 215.9h0M250.4 217.3h0M246.6 218.9h0M242.8 220.8h0M239.1 223.0h0M235.4 225.5h0M232.0 228.3h0M228.6 231.4h0M225.4 234.7h0M222.5 238.3h0M219.7 242.2h0M217.2 246.3h0M215.0 250.7h0M213.1 255.2h0M211.5 260.0h0M210.2 265.0h0M209.3 270.1h0M208.8 275.3h0M208.7 280.6h0M209.0 286.0h0M209.7 291.4h0M210.8 296.8h0M212.4 302.1h0" stroke="#ff7f0e" stroke-width="4.20" stroke-linecap="round" fill="none"/>
<path d="M281.5 253.5h0M280.7 252.9h0M279.8 252.4h0M278.9 252.0h0M277.9 251.6h0M276.9 251.3h0M275.8 251.0h0M274.7 250.8h0M273.5 250.7h0M272.3 250.7h0M271.1 250.7h0M269.9 250.9h0M268.7 251.1h0M267.4 251.4h0M266.2 251.8h0M264.9 252.3h0M263.7 252.9h0M262.4 253.6h0M261.2 254.4h0M260.1 255.3h0M258.9 256.2h0M257.9 257.3h0M256.8 258.4h0M255.8 259.7h0M254.9 261.0h0M254.0 262.4h0M253.3 263.8h0M252.5 265.4h0M251.9 267.0h0M251.4 268.7h0M250.9 270.4h0M250.6 272.2h0M250.4 274.0h0M250.3 275.9h0M250.2 277.8h0M250.4 279.8h0M250.6 281.7h0M250.9 283.7h0M251.4 285.7h0M252.0 287.7h0M252.8 289.7h0M253.6 291.6h0M254.6 293.6h0M255.8 295.5h0M257.0 297.3h0M258.4 299.2h0M259.9 300.9h0M261.6 302.6h0M263.4 304.2h0M265.3 305.7h0M267.3 307.2h0M269.4 308.5h0M271.7 309.7h0M274.0 310.8h0M276.5 311.8h0M279.0 312.6h0M281.7 313.3h0M284.4 313.9h0M287.2 314.2h0M290.0 314.5h0M293.0 314.5h0M295.9 314.4h0M298.9 314.0h0M301.9 313.5h0M305.0 312.8h0M308.0 311.9h0M311.0 310.8h0M314.0 309.5h0M317.0 308.0h0M319.9 306.2h0M322.8 304.3h0M325.6 302.1h0M328.3 299.7h0M330.8 297.2h0M333.3 294.4h0M335.6 291.4h0M337.8 288.2h0M339.8 284.8h0M341.6 281.2h0M343.1 277.4h0M344.4 273.5h0M345.4 269.4h0M346.1 265.2h0M346.5 260.9h0M346.5 256.5h0M346.1 252.1h0M345.4 247.6h0M344.3 243.2h0M342.9 238.9h0M341.1 234.7h0M338.9 230.5h0M336.5 226.5h0M333.7 222.7h0M330.7 219.0h0M327.3 215.5h0M323.7 212.3h0M319.9 209.2h0M315.8 206.4h0M311.5 203.9h0M307.0 201.6h0M302.3 199.6h0M297.5 197.8h0M292.5 196.4h0M287.3 195.2h0" stroke="#14a022" stroke-width="4.20" stroke-linecap="round" fill="none"/>
<text class="cap" x="274.9" y="381.5" text-anchor="middle">(<tspan font-weight="bold">e</tspan>)</text>
<rect x="388.2" y="187.2" width="157.9" height="156.8" fill="#fff" stroke="#828282" stroke-width="1"/>
<path d="M396.4 344.5v2M421.9 344.5v2M447.4 344.5v2M472.9 344.5v2M498.4 344.5v2M523.9 344.5v2M387.7 330.2h-2M387.7 304.7h-2M387.7 279.2h-2M387.7 253.7h-2M387.7 228.2h-2M387.7 202.7h-2" stroke="#555" stroke-width="0.6" fill="none"/>
<text x="396.4" y="352.7" text-anchor="middle">5</text>
<text x="421.9" y="352.7" text-anchor="middle">10</text>
<text x="447.4" y="352.7" text-anchor="middle">15</text>
<text x="472.9" y="352.7" text-anchor="middle">20</text>
<text x="498.4" y="352.7" text-anchor="middle">25</text>
<text x="523.9" y="352.7" text-anchor="middle">30</text>
<text x="384.0" y="332.1" text-anchor="end">5</text>
<text x="384.0" y="306.6" text-anchor="end">10</text>
<text x="384.0" y="281.1" text-anchor="end">15</text>
<text x="384.0" y="255.6" text-anchor="end">20</text>
<text x="384.0" y="230.1" text-anchor="end">25</text>
<text x="384.0" y="204.6" text-anchor="end">30</text>
<path d="M428.9 331.9h0M423.9 328.2h0M420.7 328.5h0M421.5 325.4h0M420.3 321.4h0M413.0 323.4h0M409.7 321.3h0M408.5 316.5h0M411.3 310.6h0M408.6 310.2h0M409.1 304.7h0M404.0 302.6h0M402.6 300.3h0M397.9 296.7h0M401.4 293.6h0M401.8 290.6h0M395.3 287.7h0M398.2 284.0h0M400.3 280.3h0M399.1 275.8h0M393.6 273.2h0M393.8 268.1h0M393.7 264.8h0M400.6 262.5h0M399.1 258.3h0M397.2 254.5h0M395.1 250.9h0M403.2 248.6h0M406.1 244.9h0M403.6 241.2h0M404.2 237.6h0M404.4 235.1h0M406.5 231.9h0M410.3 228.3h0M409.1 222.3h0M412.9 223.2h0M415.1 219.0h0M417.7 217.6h0M420.1 214.5h0M421.5 210.7h0M422.6 207.3h0M430.8 211.6h0M428.1 205.4h0M434.0 204.6h0M434.7 200.2h0M440.5 203.8h0M442.4 203.4h0M445.5 197.8h0M449.6 201.0h0M452.4 198.6h0M455.1 198.9h0M457.2 194.9h0M461.2 195.2h0M466.1 199.1h0M469.6 193.2h0M471.5 193.3h0M476.2 196.8h0M478.6 193.9h0M480.4 195.3h0M482.5 199.2h0M487.5 197.3h0M490.4 199.1h0M490.9 206.1h0M495.2 203.4h0M498.1 204.6h0M501.9 209.6h0M503.0 212.1h0M508.7 208.7h0M508.3 213.8h0M508.8 218.8h0M515.6 215.0h0M517.5 218.9h0M519.6 221.6h0M519.3 227.3h0M518.8 232.7h0M527.5 230.8h0M522.5 238.4h0M529.8 238.7h0M531.3 238.5h0M529.6 244.8h0M533.5 248.2h0M529.2 254.3h0M533.2 255.2h0M537.1 258.5h0M533.3 262.0h0M532.7 267.1h0M530.7 269.9h0M530.2 270.8h0M530.7 276.7h0M534.6 280.8h0M529.1 283.1h0M530.6 287.9h0M532.5 290.5h0M531.2 293.3h0M525.3 296.4h0M526.2 301.3h0M524.4 304.1h0M527.9 309.3h0M525.5 310.8h0M518.7 311.1h0M520.4 315.9h0M515.0 318.2h0M512.4 319.0h0M512.7 323.4h0M510.1 325.1h0M510.2 332.8h0M506.2 330.2h0M504.4 333.1h0M501.2 335.2h0M422.4 304.7h0" stroke="#440154" stroke-width="4.20" stroke-linecap="round" fill="none"/>
<path d="M421.4 268.3h0M430.7 273.8h0M425.1 260.0h0M435.8 283.6h0M438.5 271.8h0M426.3 273.9h0M428.2 290.9h0M422.3 267.4h0M436.5 269.6h0M424.6 277.1h0M434.1 266.2h0M427.1 281.0h0M442.4 271.5h0M430.7 278.3h0M428.6 258.7h0M441.1 275.6h0M424.0 257.9h0M445.7 261.9h0M440.1 288.0h0M423.7 267.3h0M431.4 269.9h0M429.6 277.6h0M437.9 275.4h0M433.6 269.9h0M435.4 262.3h0M444.2 283.6h0M431.6 277.5h0M439.4 281.1h0M439.6 266.2h0M438.1 280.3h0M432.0 281.2h0M436.7 264.0h0M421.9 279.1h0M432.3 276.6h0M445.1 273.3h0M435.6 281.5h0M445.5 270.7h0M439.6 271.3h0M417.3 285.6h0M423.7 268.1h0M429.7 268.5h0M435.8 270.0h0M440.7 270.5h0M421.0 277.8h0M446.4 281.1h0M444.1 258.1h0M429.0 269.2h0M422.8 265.5h0M449.4 266.7h0M452.5 283.6h0M432.7 249.8h0M420.1 278.6h0M440.1 282.8h0M449.5 256.3h0M429.8 284.7h0M421.3 286.1h0M433.5 269.8h0M452.0 272.2h0M436.6 286.0h0M456.2 273.3h0M417.3 282.8h0M444.4 283.9h0M456.7 269.0h0M447.3 266.9h0M442.3 277.4h0M448.1 256.4h0M447.9 265.5h0M447.5 256.7h0M453.3 277.7h0M449.6 266.3h0M433.0 293.1h0M418.5 290.4h0M453.8 281.1h0M437.6 266.1h0M431.3 276.5h0M428.1 264.6h0M433.8 259.0h0M436.3 293.2h0M415.2 279.4h0M438.5 253.3h0M450.5 277.0h0M436.4 294.6h0M454.2 267.5h0M414.8 275.9h0M417.3 260.9h0M441.9 266.8h0M432.5 275.7h0M447.5 266.8h0M426.1 260.2h0M441.6 275.1h0M443.1 289.2h0M430.3 257.6h0M447.1 259.1h0M453.0 257.9h0M445.9 281.2h0M414.5 258.3h0M413.2 263.9h0M434.1 309.3h0M422.9 239.9h0M462.2 265.9h0M464.2 275.6h0" stroke="#fde118" stroke-width="4.20" stroke-linecap="round" fill="none"/>
<path d="M494.3 267.7h0M502.8 267.8h0M489.3 283.1h0M490.2 274.2h0M478.5 282.7h0M485.1 281.0h0M487.1 266.2h0M499.7 264.8h0M486.5 282.1h0M492.9 257.9h0M511.1 280.4h0M501.5 252.9h0M486.3 276.1h0M507.7 267.0h0M486.6 259.1h0M504.8 267.3h0M484.4 275.8h0M507.9 269.3h0M503.2 276.8h0M509.7 276.5h0M504.3 270.9h0M487.0 259.4h0M484.2 281.4h0M497.1 288.1h0M479.2 275.3h0M491.9 276.9h0M500.4 251.8h0M491.9 249.9h0M498.0 275.2h0M498.1 268.8h0M488.0 271.4h0M503.8 280.0h0M480.6 284.2h0M492.7 271.6h0M502.6 283.7h0M495.8 277.1h0M495.8 263.6h0M507.4 279.2h0M489.9 281.3h0M490.7 278.6h0M494.0 279.5h0M485.7 286.1h0M496.0 250.2h0M500.7 268.0h0M498.8 276.0h0M513.9 277.5h0M486.6 286.7h0M497.3 284.3h0M487.5 283.1h0M483.5 272.8h0M509.5 283.1h0M480.6 292.6h0M498.8 247.5h0M493.8 250.5h0M496.5 288.6h0M519.2 265.4h0M487.3 269.3h0M504.2 299.4h0M498.7 267.8h0M469.8 268.9h0M516.8 289.7h0M484.8 282.8h0M485.7 257.2h0M488.7 253.7h0M505.6 263.1h0M510.8 293.7h0M519.6 269.8h0M518.6 265.9h0M492.9 270.4h0M468.6 278.8h0M500.1 301.8h0M495.3 257.6h0M504.6 291.6h0M492.8 293.1h0M490.5 283.1h0M492.0 260.6h0M488.1 266.6h0M505.2 246.3h0M506.6 273.3h0M476.5 256.9h0M519.2 265.2h0M497.6 303.2h0M503.2 273.8h0M507.6 252.6h0M487.5 294.9h0M488.1 296.4h0M493.7 259.0h0M489.2 276.2h0M482.4 250.4h0M476.7 267.4h0M500.5 294.8h0M501.5 272.2h0M495.3 302.7h0M515.7 260.5h0M520.0 271.4h0M473.9 260.3h0M485.1 271.8h0M473.5 273.0h0M479.3 287.3h0M519.9 270.8h0" stroke="#21918c" stroke-width="4.20" stroke-linecap="round" fill="none"/>
<text class="cap" x="462.9" y="381.5" text-anchor="middle">(<tspan font-weight="bold">f</tspan>)</text>
</svg>
</body></html>
